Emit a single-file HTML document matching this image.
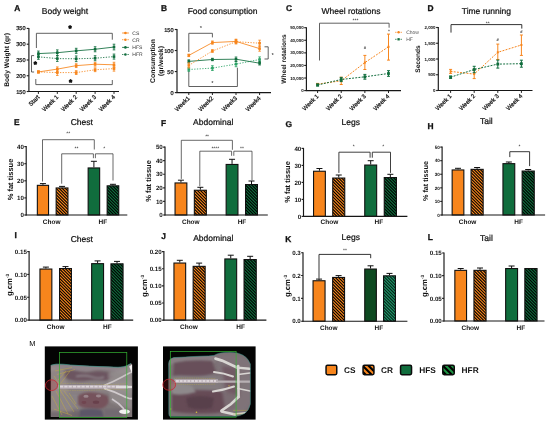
<!DOCTYPE html>
<html><head><meta charset="utf-8"><title>Figure</title>
<style>
html,body{margin:0;padding:0;background:#fff;}
svg{display:block;font-family:"Liberation Sans",sans-serif;text-rendering:geometricPrecision;}
text.r{stroke:#111;stroke-width:0.22px;}
</style></head><body>
<svg width="550" height="423" viewBox="0 0 550 423">
<rect width="550" height="423" fill="#fff"/>
<defs>
<pattern id="hO" patternUnits="userSpaceOnUse" width="2.15" height="2.15" patternTransform="rotate(-45)"><rect width="2.15" height="2.15" fill="#F7851C"/><rect width="1.0" height="2.15" fill="#111"/></pattern>
<pattern id="hG" patternUnits="userSpaceOnUse" width="2.15" height="2.15" patternTransform="rotate(-45)"><rect width="2.15" height="2.15" fill="#106D3D"/><rect width="1.0" height="2.15" fill="#0a1a10"/></pattern>
<pattern id="hG2" patternUnits="userSpaceOnUse" width="2.15" height="2.15" patternTransform="rotate(-45)"><rect width="2.15" height="2.15" fill="#2E9468"/><rect width="1.0" height="2.15" fill="#10402a"/></pattern>
<filter id="b1" x="-20%" y="-20%" width="140%" height="140%"><feGaussianBlur stdDeviation="1.2"/></filter>
<filter id="b2" x="-20%" y="-20%" width="140%" height="140%"><feGaussianBlur stdDeviation="0.6"/></filter>
<filter id="b3" x="-20%" y="-20%" width="140%" height="140%"><feGaussianBlur stdDeviation="2.2"/></filter>
</defs>
<text x="14.30" y="10.60" font-size="8.4" font-weight="bold" text-anchor="start" fill="#111" stroke="#111" stroke-width="0.3">A</text>
<text class="r" x="65.00" y="13.80" font-size="8.5" font-weight="normal" text-anchor="middle" fill="#111">Body weight</text>
<line x1="28.90" y1="27.95" x2="28.90" y2="92.00" stroke="#161616" stroke-width="1.15"/>
<line x1="28.40" y1="91.50" x2="119.00" y2="91.50" stroke="#161616" stroke-width="1.15"/>
<line x1="26.70" y1="28.45" x2="28.90" y2="28.45" stroke="#222" stroke-width="1.15"/>
<text class="r" x="25.50" y="30.47" font-size="5.6" font-weight="normal" text-anchor="end" fill="#111">350</text>
<line x1="26.70" y1="44.21" x2="28.90" y2="44.21" stroke="#222" stroke-width="1.15"/>
<text class="r" x="25.50" y="46.23" font-size="5.6" font-weight="normal" text-anchor="end" fill="#111">300</text>
<line x1="26.70" y1="59.98" x2="28.90" y2="59.98" stroke="#222" stroke-width="1.15"/>
<text class="r" x="25.50" y="61.99" font-size="5.6" font-weight="normal" text-anchor="end" fill="#111">250</text>
<line x1="26.70" y1="75.74" x2="28.90" y2="75.74" stroke="#222" stroke-width="1.15"/>
<text class="r" x="25.50" y="77.75" font-size="5.6" font-weight="normal" text-anchor="end" fill="#111">200</text>
<line x1="26.70" y1="91.50" x2="28.90" y2="91.50" stroke="#222" stroke-width="1.15"/>
<text class="r" x="25.50" y="93.52" font-size="5.6" font-weight="normal" text-anchor="end" fill="#111">150</text>
<line x1="38.40" y1="91.50" x2="38.40" y2="93.90" stroke="#222" stroke-width="1"/>
<text class="r" x="39.90" y="97.50" font-size="6.0" font-weight="normal" text-anchor="end" fill="#111" transform="rotate(-45 39.90 97.50)">Start</text>
<line x1="57.30" y1="91.50" x2="57.30" y2="93.90" stroke="#222" stroke-width="1"/>
<text class="r" x="58.80" y="97.50" font-size="6.0" font-weight="normal" text-anchor="end" fill="#111" transform="rotate(-45 58.80 97.50)">Week 1</text>
<line x1="76.20" y1="91.50" x2="76.20" y2="93.90" stroke="#222" stroke-width="1"/>
<text class="r" x="77.70" y="97.50" font-size="6.0" font-weight="normal" text-anchor="end" fill="#111" transform="rotate(-45 77.70 97.50)">Week 2</text>
<line x1="95.10" y1="91.50" x2="95.10" y2="93.90" stroke="#222" stroke-width="1"/>
<text class="r" x="96.60" y="97.50" font-size="6.0" font-weight="normal" text-anchor="end" fill="#111" transform="rotate(-45 96.60 97.50)">Week 3</text>
<line x1="114.00" y1="91.50" x2="114.00" y2="93.90" stroke="#222" stroke-width="1"/>
<text class="r" x="115.50" y="97.50" font-size="6.0" font-weight="normal" text-anchor="end" fill="#111" transform="rotate(-45 115.50 97.50)">Week 4</text>
<text x="8.80" y="60.00" font-size="6.7" font-weight="bold" text-anchor="middle" fill="#111" transform="rotate(-90 8.80 60.00)">Body Weight (gr)</text>
<path d="M38.40,71.95 L57.30,72.59 L76.20,72.59 L95.10,69.75 L114.00,68.61" stroke="#F7851C" stroke-width="0.85" fill="none" stroke-dasharray="1.3,1.4"/>
<line x1="38.40" y1="72.90" x2="38.40" y2="71.01" stroke="#F7851C" stroke-width="0.85"/>
<line x1="37.10" y1="72.90" x2="39.70" y2="72.90" stroke="#F7851C" stroke-width="0.85"/>
<line x1="37.10" y1="71.01" x2="39.70" y2="71.01" stroke="#F7851C" stroke-width="0.85"/>
<rect x="37.10" y="70.65" width="2.6" height="2.6" fill="#F7851C"/>
<line x1="57.30" y1="75.42" x2="57.30" y2="69.75" stroke="#F7851C" stroke-width="0.85"/>
<line x1="56.00" y1="75.42" x2="58.60" y2="75.42" stroke="#F7851C" stroke-width="0.85"/>
<line x1="56.00" y1="69.75" x2="58.60" y2="69.75" stroke="#F7851C" stroke-width="0.85"/>
<rect x="56.00" y="71.29" width="2.6" height="2.6" fill="#F7851C"/>
<line x1="76.20" y1="74.48" x2="76.20" y2="70.69" stroke="#F7851C" stroke-width="0.85"/>
<line x1="74.90" y1="74.48" x2="77.50" y2="74.48" stroke="#F7851C" stroke-width="0.85"/>
<line x1="74.90" y1="70.69" x2="77.50" y2="70.69" stroke="#F7851C" stroke-width="0.85"/>
<rect x="74.90" y="71.29" width="2.6" height="2.6" fill="#F7851C"/>
<line x1="95.10" y1="71.64" x2="95.10" y2="67.86" stroke="#F7851C" stroke-width="0.85"/>
<line x1="93.80" y1="71.64" x2="96.40" y2="71.64" stroke="#F7851C" stroke-width="0.85"/>
<line x1="93.80" y1="67.86" x2="96.40" y2="67.86" stroke="#F7851C" stroke-width="0.85"/>
<rect x="93.80" y="68.45" width="2.6" height="2.6" fill="#F7851C"/>
<line x1="114.00" y1="71.13" x2="114.00" y2="66.09" stroke="#F7851C" stroke-width="0.85"/>
<line x1="112.70" y1="71.13" x2="115.30" y2="71.13" stroke="#F7851C" stroke-width="0.85"/>
<line x1="112.70" y1="66.09" x2="115.30" y2="66.09" stroke="#F7851C" stroke-width="0.85"/>
<rect x="112.70" y="67.31" width="2.6" height="2.6" fill="#F7851C"/>
<path d="M38.40,71.95 L57.30,69.12 L76.20,65.65 L95.10,64.23 L114.00,64.80" stroke="#F7851C" stroke-width="0.85" fill="none"/>
<line x1="38.40" y1="72.90" x2="38.40" y2="71.01" stroke="#F7851C" stroke-width="0.85"/>
<line x1="37.10" y1="72.90" x2="39.70" y2="72.90" stroke="#F7851C" stroke-width="0.85"/>
<line x1="37.10" y1="71.01" x2="39.70" y2="71.01" stroke="#F7851C" stroke-width="0.85"/>
<rect x="37.10" y="70.65" width="2.6" height="2.6" fill="#F7851C"/>
<line x1="57.30" y1="71.32" x2="57.30" y2="66.91" stroke="#F7851C" stroke-width="0.85"/>
<line x1="56.00" y1="71.32" x2="58.60" y2="71.32" stroke="#F7851C" stroke-width="0.85"/>
<line x1="56.00" y1="66.91" x2="58.60" y2="66.91" stroke="#F7851C" stroke-width="0.85"/>
<rect x="56.00" y="67.82" width="2.6" height="2.6" fill="#F7851C"/>
<line x1="76.20" y1="67.54" x2="76.20" y2="63.76" stroke="#F7851C" stroke-width="0.85"/>
<line x1="74.90" y1="67.54" x2="77.50" y2="67.54" stroke="#F7851C" stroke-width="0.85"/>
<line x1="74.90" y1="63.76" x2="77.50" y2="63.76" stroke="#F7851C" stroke-width="0.85"/>
<rect x="74.90" y="64.35" width="2.6" height="2.6" fill="#F7851C"/>
<line x1="95.10" y1="66.12" x2="95.10" y2="62.34" stroke="#F7851C" stroke-width="0.85"/>
<line x1="93.80" y1="66.12" x2="96.40" y2="66.12" stroke="#F7851C" stroke-width="0.85"/>
<line x1="93.80" y1="62.34" x2="96.40" y2="62.34" stroke="#F7851C" stroke-width="0.85"/>
<rect x="93.80" y="62.93" width="2.6" height="2.6" fill="#F7851C"/>
<line x1="114.00" y1="67.32" x2="114.00" y2="62.28" stroke="#F7851C" stroke-width="0.85"/>
<line x1="112.70" y1="67.32" x2="115.30" y2="67.32" stroke="#F7851C" stroke-width="0.85"/>
<line x1="112.70" y1="62.28" x2="115.30" y2="62.28" stroke="#F7851C" stroke-width="0.85"/>
<rect x="112.70" y="63.50" width="2.6" height="2.6" fill="#F7851C"/>
<path d="M38.40,56.82 L57.30,58.59 L76.20,58.78 L95.10,58.24 L114.00,56.60" stroke="#106D3D" stroke-width="0.85" fill="none" stroke-dasharray="1.3,1.4"/>
<line x1="38.40" y1="59.34" x2="38.40" y2="54.30" stroke="#106D3D" stroke-width="0.85"/>
<line x1="37.10" y1="59.34" x2="39.70" y2="59.34" stroke="#106D3D" stroke-width="0.85"/>
<line x1="37.10" y1="54.30" x2="39.70" y2="54.30" stroke="#106D3D" stroke-width="0.85"/>
<rect x="37.10" y="55.52" width="2.6" height="2.6" fill="#106D3D"/>
<line x1="57.30" y1="61.43" x2="57.30" y2="55.75" stroke="#106D3D" stroke-width="0.85"/>
<line x1="56.00" y1="61.43" x2="58.60" y2="61.43" stroke="#106D3D" stroke-width="0.85"/>
<line x1="56.00" y1="55.75" x2="58.60" y2="55.75" stroke="#106D3D" stroke-width="0.85"/>
<rect x="56.00" y="57.29" width="2.6" height="2.6" fill="#106D3D"/>
<line x1="76.20" y1="61.61" x2="76.20" y2="55.94" stroke="#106D3D" stroke-width="0.85"/>
<line x1="74.90" y1="61.61" x2="77.50" y2="61.61" stroke="#106D3D" stroke-width="0.85"/>
<line x1="74.90" y1="55.94" x2="77.50" y2="55.94" stroke="#106D3D" stroke-width="0.85"/>
<rect x="74.90" y="57.48" width="2.6" height="2.6" fill="#106D3D"/>
<line x1="95.10" y1="60.76" x2="95.10" y2="55.72" stroke="#106D3D" stroke-width="0.85"/>
<line x1="93.80" y1="60.76" x2="96.40" y2="60.76" stroke="#106D3D" stroke-width="0.85"/>
<line x1="93.80" y1="55.72" x2="96.40" y2="55.72" stroke="#106D3D" stroke-width="0.85"/>
<rect x="93.80" y="56.94" width="2.6" height="2.6" fill="#106D3D"/>
<line x1="114.00" y1="59.12" x2="114.00" y2="54.08" stroke="#106D3D" stroke-width="0.85"/>
<line x1="112.70" y1="59.12" x2="115.30" y2="59.12" stroke="#106D3D" stroke-width="0.85"/>
<line x1="112.70" y1="54.08" x2="115.30" y2="54.08" stroke="#106D3D" stroke-width="0.85"/>
<rect x="112.70" y="55.30" width="2.6" height="2.6" fill="#106D3D"/>
<path d="M38.40,53.58 L57.30,52.72 L76.20,50.83 L95.10,49.26 L114.00,47.05" stroke="#106D3D" stroke-width="0.85" fill="none"/>
<line x1="38.40" y1="56.10" x2="38.40" y2="51.05" stroke="#106D3D" stroke-width="0.85"/>
<line x1="37.10" y1="56.10" x2="39.70" y2="56.10" stroke="#106D3D" stroke-width="0.85"/>
<line x1="37.10" y1="51.05" x2="39.70" y2="51.05" stroke="#106D3D" stroke-width="0.85"/>
<rect x="37.10" y="52.28" width="2.6" height="2.6" fill="#106D3D"/>
<line x1="57.30" y1="55.56" x2="57.30" y2="49.89" stroke="#106D3D" stroke-width="0.85"/>
<line x1="56.00" y1="55.56" x2="58.60" y2="55.56" stroke="#106D3D" stroke-width="0.85"/>
<line x1="56.00" y1="49.89" x2="58.60" y2="49.89" stroke="#106D3D" stroke-width="0.85"/>
<rect x="56.00" y="51.42" width="2.6" height="2.6" fill="#106D3D"/>
<line x1="76.20" y1="53.35" x2="76.20" y2="48.31" stroke="#106D3D" stroke-width="0.85"/>
<line x1="74.90" y1="53.35" x2="77.50" y2="53.35" stroke="#106D3D" stroke-width="0.85"/>
<line x1="74.90" y1="48.31" x2="77.50" y2="48.31" stroke="#106D3D" stroke-width="0.85"/>
<rect x="74.90" y="49.53" width="2.6" height="2.6" fill="#106D3D"/>
<line x1="95.10" y1="51.78" x2="95.10" y2="46.73" stroke="#106D3D" stroke-width="0.85"/>
<line x1="93.80" y1="51.78" x2="96.40" y2="51.78" stroke="#106D3D" stroke-width="0.85"/>
<line x1="93.80" y1="46.73" x2="96.40" y2="46.73" stroke="#106D3D" stroke-width="0.85"/>
<rect x="93.80" y="47.96" width="2.6" height="2.6" fill="#106D3D"/>
<line x1="114.00" y1="49.89" x2="114.00" y2="44.21" stroke="#106D3D" stroke-width="0.85"/>
<line x1="112.70" y1="49.89" x2="115.30" y2="49.89" stroke="#106D3D" stroke-width="0.85"/>
<line x1="112.70" y1="44.21" x2="115.30" y2="44.21" stroke="#106D3D" stroke-width="0.85"/>
<rect x="112.70" y="45.75" width="2.6" height="2.6" fill="#106D3D"/>
<path d="M36.4,48 V33.3 H112.3 V39.7" stroke="#444" stroke-width="0.85" fill="none"/>
<path d="M35.8,79 V84.6 H112.3 V80" stroke="#444" stroke-width="0.85" fill="none"/>
<path d="M34.1,55.6 H31.5 V72 H34.1" stroke="#444" stroke-width="0.85" fill="none"/>
<text x="70.00" y="31.40" font-size="8" font-weight="bold" text-anchor="middle" fill="#111" stroke="#111" stroke-width="0.7">*</text>
<text x="35.30" y="67.00" font-size="8" font-weight="bold" text-anchor="middle" fill="#111" stroke="#111" stroke-width="0.7">*</text>
<text x="70.60" y="85.20" font-size="8" font-weight="bold" text-anchor="middle" fill="#111" stroke="#111" stroke-width="0.7">*</text>
<line x1="122.10" y1="33.00" x2="128.90" y2="33.00" stroke="#F7851C" stroke-width="0.85"/>
<circle cx="125.4" cy="33.00" r="1.3" fill="#F7851C"/>
<text x="132.30" y="34.80" font-size="5.0" font-weight="normal" text-anchor="start" fill="#3a3a3a">CS</text>
<line x1="122.10" y1="39.70" x2="128.90" y2="39.70" stroke="#F7851C" stroke-width="0.85" stroke-dasharray="1.3,1.4"/>
<circle cx="125.4" cy="39.70" r="1.3" fill="#F7851C"/>
<text x="132.30" y="41.50" font-size="5.0" font-weight="normal" text-anchor="start" fill="#3a3a3a">CR</text>
<line x1="122.10" y1="47.40" x2="128.90" y2="47.40" stroke="#106D3D" stroke-width="0.85"/>
<circle cx="125.4" cy="47.40" r="1.3" fill="#106D3D"/>
<text x="132.30" y="49.20" font-size="5.0" font-weight="normal" text-anchor="start" fill="#3a3a3a">HFS</text>
<line x1="122.10" y1="54.50" x2="128.90" y2="54.50" stroke="#106D3D" stroke-width="0.85" stroke-dasharray="1.3,1.4"/>
<circle cx="125.4" cy="54.50" r="1.3" fill="#106D3D"/>
<text x="132.30" y="56.30" font-size="5.0" font-weight="normal" text-anchor="start" fill="#3a3a3a">HFR</text>
<text x="161.00" y="10.60" font-size="8.4" font-weight="bold" text-anchor="start" fill="#111" stroke="#111" stroke-width="0.3">B</text>
<text class="r" x="222.60" y="13.80" font-size="8.5" font-weight="normal" text-anchor="middle" fill="#111">Food consumption</text>
<line x1="177.00" y1="29.00" x2="177.00" y2="93.10" stroke="#161616" stroke-width="1.15"/>
<line x1="176.50" y1="92.60" x2="271.00" y2="92.60" stroke="#161616" stroke-width="1.15"/>
<line x1="174.80" y1="29.50" x2="177.00" y2="29.50" stroke="#222" stroke-width="1.15"/>
<text class="r" x="173.60" y="31.52" font-size="5.6" font-weight="normal" text-anchor="end" fill="#111">150</text>
<line x1="174.80" y1="50.53" x2="177.00" y2="50.53" stroke="#222" stroke-width="1.15"/>
<text class="r" x="173.60" y="52.55" font-size="5.6" font-weight="normal" text-anchor="end" fill="#111">100</text>
<line x1="174.80" y1="71.57" x2="177.00" y2="71.57" stroke="#222" stroke-width="1.15"/>
<text class="r" x="173.60" y="73.58" font-size="5.6" font-weight="normal" text-anchor="end" fill="#111">50</text>
<line x1="174.80" y1="92.60" x2="177.00" y2="92.60" stroke="#222" stroke-width="1.15"/>
<text class="r" x="173.60" y="94.62" font-size="5.6" font-weight="normal" text-anchor="end" fill="#111">0</text>
<line x1="188.80" y1="92.60" x2="188.80" y2="95.00" stroke="#222" stroke-width="1"/>
<text class="r" x="190.30" y="98.60" font-size="6.0" font-weight="normal" text-anchor="end" fill="#111" transform="rotate(-45 190.30 98.60)">Week1</text>
<line x1="212.40" y1="92.60" x2="212.40" y2="95.00" stroke="#222" stroke-width="1"/>
<text class="r" x="213.90" y="98.60" font-size="6.0" font-weight="normal" text-anchor="end" fill="#111" transform="rotate(-45 213.90 98.60)">Week2</text>
<line x1="236.00" y1="92.60" x2="236.00" y2="95.00" stroke="#222" stroke-width="1"/>
<text class="r" x="237.50" y="98.60" font-size="6.0" font-weight="normal" text-anchor="end" fill="#111" transform="rotate(-45 237.50 98.60)">Week3</text>
<line x1="259.60" y1="92.60" x2="259.60" y2="95.00" stroke="#222" stroke-width="1"/>
<text class="r" x="261.10" y="98.60" font-size="6.0" font-weight="normal" text-anchor="end" fill="#111" transform="rotate(-45 261.10 98.60)">Week4</text>
<text x="154.80" y="61.00" font-size="6.8" font-weight="bold" text-anchor="middle" fill="#111" transform="rotate(-90 154.80 61.00)">Consumption</text>
<text x="163.20" y="61.00" font-size="6.8" font-weight="bold" text-anchor="middle" fill="#111" transform="rotate(-90 163.20 61.00)">(gr/week)</text>
<path d="M188.8,52 V33.3 H212.4 V37.4" stroke="#444" stroke-width="0.85" fill="none"/>
<path d="M188.8,71 V86.5 H237.4 V67.7" stroke="#444" stroke-width="0.85" fill="none"/>
<path d="M264.5,46.8 H268.2 V59 H264.5" stroke="#444" stroke-width="0.85" fill="none"/>
<path d="M188.80,69.50 L212.40,68.10 L236.00,64.10 L259.60,59.50" stroke="#2BA366" stroke-width="0.85" fill="none" stroke-dasharray="1.3,1.4"/>
<line x1="188.80" y1="71.30" x2="188.80" y2="67.70" stroke="#2BA366" stroke-width="0.85"/>
<line x1="187.50" y1="71.30" x2="190.10" y2="71.30" stroke="#2BA366" stroke-width="0.85"/>
<line x1="187.50" y1="67.70" x2="190.10" y2="67.70" stroke="#2BA366" stroke-width="0.85"/>
<rect x="187.50" y="68.20" width="2.6" height="2.6" fill="#2BA366"/>
<line x1="212.40" y1="70.50" x2="212.40" y2="65.70" stroke="#2BA366" stroke-width="0.85"/>
<line x1="211.10" y1="70.50" x2="213.70" y2="70.50" stroke="#2BA366" stroke-width="0.85"/>
<line x1="211.10" y1="65.70" x2="213.70" y2="65.70" stroke="#2BA366" stroke-width="0.85"/>
<rect x="211.10" y="66.80" width="2.6" height="2.6" fill="#2BA366"/>
<line x1="236.00" y1="66.70" x2="236.00" y2="61.50" stroke="#2BA366" stroke-width="0.85"/>
<line x1="234.70" y1="66.70" x2="237.30" y2="66.70" stroke="#2BA366" stroke-width="0.85"/>
<line x1="234.70" y1="61.50" x2="237.30" y2="61.50" stroke="#2BA366" stroke-width="0.85"/>
<rect x="234.70" y="62.80" width="2.6" height="2.6" fill="#2BA366"/>
<line x1="259.60" y1="62.10" x2="259.60" y2="56.90" stroke="#2BA366" stroke-width="0.85"/>
<line x1="258.30" y1="62.10" x2="260.90" y2="62.10" stroke="#2BA366" stroke-width="0.85"/>
<line x1="258.30" y1="56.90" x2="260.90" y2="56.90" stroke="#2BA366" stroke-width="0.85"/>
<rect x="258.30" y="58.20" width="2.6" height="2.6" fill="#2BA366"/>
<path d="M188.80,61.40 L212.40,59.50 L236.00,59.20 L259.60,63.20" stroke="#106D3D" stroke-width="0.85" fill="none"/>
<line x1="188.80" y1="63.00" x2="188.80" y2="59.80" stroke="#106D3D" stroke-width="0.85"/>
<line x1="187.50" y1="63.00" x2="190.10" y2="63.00" stroke="#106D3D" stroke-width="0.85"/>
<line x1="187.50" y1="59.80" x2="190.10" y2="59.80" stroke="#106D3D" stroke-width="0.85"/>
<rect x="187.50" y="60.10" width="2.6" height="2.6" fill="#106D3D"/>
<line x1="212.40" y1="60.70" x2="212.40" y2="58.30" stroke="#106D3D" stroke-width="0.85"/>
<line x1="211.10" y1="60.70" x2="213.70" y2="60.70" stroke="#106D3D" stroke-width="0.85"/>
<line x1="211.10" y1="58.30" x2="213.70" y2="58.30" stroke="#106D3D" stroke-width="0.85"/>
<rect x="211.10" y="58.20" width="2.6" height="2.6" fill="#106D3D"/>
<line x1="236.00" y1="61.40" x2="236.00" y2="57.00" stroke="#106D3D" stroke-width="0.85"/>
<line x1="234.70" y1="61.40" x2="237.30" y2="61.40" stroke="#106D3D" stroke-width="0.85"/>
<line x1="234.70" y1="57.00" x2="237.30" y2="57.00" stroke="#106D3D" stroke-width="0.85"/>
<rect x="234.70" y="57.90" width="2.6" height="2.6" fill="#106D3D"/>
<line x1="259.60" y1="65.00" x2="259.60" y2="61.40" stroke="#106D3D" stroke-width="0.85"/>
<line x1="258.30" y1="65.00" x2="260.90" y2="65.00" stroke="#106D3D" stroke-width="0.85"/>
<line x1="258.30" y1="61.40" x2="260.90" y2="61.40" stroke="#106D3D" stroke-width="0.85"/>
<rect x="258.30" y="61.90" width="2.6" height="2.6" fill="#106D3D"/>
<path d="M188.80,65.40 L212.40,51.00 L236.00,41.70 L259.60,43.20" stroke="#F7851C" stroke-width="0.85" fill="none" stroke-dasharray="1.3,1.4"/>
<line x1="188.80" y1="67.90" x2="188.80" y2="62.90" stroke="#F7851C" stroke-width="0.85"/>
<line x1="187.50" y1="67.90" x2="190.10" y2="67.90" stroke="#F7851C" stroke-width="0.85"/>
<line x1="187.50" y1="62.90" x2="190.10" y2="62.90" stroke="#F7851C" stroke-width="0.85"/>
<rect x="187.50" y="64.10" width="2.6" height="2.6" fill="#F7851C"/>
<line x1="212.40" y1="52.30" x2="212.40" y2="49.70" stroke="#F7851C" stroke-width="0.85"/>
<line x1="211.10" y1="52.30" x2="213.70" y2="52.30" stroke="#F7851C" stroke-width="0.85"/>
<line x1="211.10" y1="49.70" x2="213.70" y2="49.70" stroke="#F7851C" stroke-width="0.85"/>
<rect x="211.10" y="49.70" width="2.6" height="2.6" fill="#F7851C"/>
<line x1="236.00" y1="43.90" x2="236.00" y2="39.50" stroke="#F7851C" stroke-width="0.85"/>
<line x1="234.70" y1="43.90" x2="237.30" y2="43.90" stroke="#F7851C" stroke-width="0.85"/>
<line x1="234.70" y1="39.50" x2="237.30" y2="39.50" stroke="#F7851C" stroke-width="0.85"/>
<rect x="234.70" y="40.40" width="2.6" height="2.6" fill="#F7851C"/>
<line x1="259.60" y1="46.20" x2="259.60" y2="40.20" stroke="#F7851C" stroke-width="0.85"/>
<line x1="258.30" y1="46.20" x2="260.90" y2="46.20" stroke="#F7851C" stroke-width="0.85"/>
<line x1="258.30" y1="40.20" x2="260.90" y2="40.20" stroke="#F7851C" stroke-width="0.85"/>
<rect x="258.30" y="41.90" width="2.6" height="2.6" fill="#F7851C"/>
<path d="M188.80,55.40 L212.40,42.60 L236.00,41.40 L259.60,48.60" stroke="#F7851C" stroke-width="0.85" fill="none"/>
<line x1="188.80" y1="56.60" x2="188.80" y2="54.20" stroke="#F7851C" stroke-width="0.85"/>
<line x1="187.50" y1="56.60" x2="190.10" y2="56.60" stroke="#F7851C" stroke-width="0.85"/>
<line x1="187.50" y1="54.20" x2="190.10" y2="54.20" stroke="#F7851C" stroke-width="0.85"/>
<rect x="187.50" y="54.10" width="2.6" height="2.6" fill="#F7851C"/>
<line x1="212.40" y1="44.20" x2="212.40" y2="41.00" stroke="#F7851C" stroke-width="0.85"/>
<line x1="211.10" y1="44.20" x2="213.70" y2="44.20" stroke="#F7851C" stroke-width="0.85"/>
<line x1="211.10" y1="41.00" x2="213.70" y2="41.00" stroke="#F7851C" stroke-width="0.85"/>
<rect x="211.10" y="41.30" width="2.6" height="2.6" fill="#F7851C"/>
<line x1="236.00" y1="43.60" x2="236.00" y2="39.20" stroke="#F7851C" stroke-width="0.85"/>
<line x1="234.70" y1="43.60" x2="237.30" y2="43.60" stroke="#F7851C" stroke-width="0.85"/>
<line x1="234.70" y1="39.20" x2="237.30" y2="39.20" stroke="#F7851C" stroke-width="0.85"/>
<rect x="234.70" y="40.10" width="2.6" height="2.6" fill="#F7851C"/>
<line x1="259.60" y1="51.20" x2="259.60" y2="46.00" stroke="#F7851C" stroke-width="0.85"/>
<line x1="258.30" y1="51.20" x2="260.90" y2="51.20" stroke="#F7851C" stroke-width="0.85"/>
<line x1="258.30" y1="46.00" x2="260.90" y2="46.00" stroke="#F7851C" stroke-width="0.85"/>
<rect x="258.30" y="47.30" width="2.6" height="2.6" fill="#F7851C"/>
<text x="200.90" y="30.20" font-size="6" font-weight="normal" text-anchor="middle" fill="#111">*</text>
<text x="212.40" y="85.00" font-size="6" font-weight="normal" text-anchor="middle" fill="#111">*</text>
<text x="272.70" y="57.00" font-size="6" font-weight="normal" text-anchor="middle" fill="#111">*</text>
<text x="286.00" y="10.90" font-size="8.4" font-weight="bold" text-anchor="start" fill="#111" stroke="#111" stroke-width="0.3">C</text>
<text class="r" x="351.00" y="13.80" font-size="8.5" font-weight="normal" text-anchor="middle" fill="#111">Wheel rotations</text>
<line x1="306.40" y1="27.20" x2="306.40" y2="91.10" stroke="#161616" stroke-width="1.15"/>
<line x1="305.90" y1="90.60" x2="401.00" y2="90.60" stroke="#161616" stroke-width="1.15"/>
<line x1="304.20" y1="27.70" x2="306.40" y2="27.70" stroke="#222" stroke-width="1.15"/>
<text x="303.60" y="29.28" font-size="4.4" font-weight="bold" text-anchor="end" fill="#111">50,000</text>
<line x1="304.20" y1="40.28" x2="306.40" y2="40.28" stroke="#222" stroke-width="1.15"/>
<text x="303.60" y="41.86" font-size="4.4" font-weight="bold" text-anchor="end" fill="#111">40,000</text>
<line x1="304.20" y1="52.86" x2="306.40" y2="52.86" stroke="#222" stroke-width="1.15"/>
<text x="303.60" y="54.44" font-size="4.4" font-weight="bold" text-anchor="end" fill="#111">30,000</text>
<line x1="304.20" y1="65.44" x2="306.40" y2="65.44" stroke="#222" stroke-width="1.15"/>
<text x="303.60" y="67.02" font-size="4.4" font-weight="bold" text-anchor="end" fill="#111">20,000</text>
<line x1="304.20" y1="78.02" x2="306.40" y2="78.02" stroke="#222" stroke-width="1.15"/>
<text x="303.60" y="79.60" font-size="4.4" font-weight="bold" text-anchor="end" fill="#111">10,000</text>
<line x1="304.20" y1="90.60" x2="306.40" y2="90.60" stroke="#222" stroke-width="1.15"/>
<text x="303.60" y="92.18" font-size="4.4" font-weight="bold" text-anchor="end" fill="#111">0</text>
<line x1="317.60" y1="90.60" x2="317.60" y2="93.00" stroke="#222" stroke-width="1"/>
<text class="r" x="319.10" y="96.60" font-size="6.0" font-weight="normal" text-anchor="end" fill="#111" transform="rotate(-45 319.10 96.60)">Week 1</text>
<line x1="341.23" y1="90.60" x2="341.23" y2="93.00" stroke="#222" stroke-width="1"/>
<text class="r" x="342.73" y="96.60" font-size="6.0" font-weight="normal" text-anchor="end" fill="#111" transform="rotate(-45 342.73 96.60)">Week 2</text>
<line x1="364.86" y1="90.60" x2="364.86" y2="93.00" stroke="#222" stroke-width="1"/>
<text class="r" x="366.36" y="96.60" font-size="6.0" font-weight="normal" text-anchor="end" fill="#111" transform="rotate(-45 366.36 96.60)">Week 3</text>
<line x1="388.49" y1="90.60" x2="388.49" y2="93.00" stroke="#222" stroke-width="1"/>
<text class="r" x="389.99" y="96.60" font-size="6.0" font-weight="normal" text-anchor="end" fill="#111" transform="rotate(-45 389.99 96.60)">Week 4</text>
<text x="285.90" y="59.00" font-size="6.6" font-weight="bold" text-anchor="middle" fill="#111" transform="rotate(-90 285.90 59.00)">Wheel rotations</text>
<path d="M319.5,60.5 V23.2 H389.1 V27.7" stroke="#444" stroke-width="0.85" fill="none"/>
<path d="M317.60,84.10 L341.23,80.80 L364.86,62.60 L388.49,46.80" stroke="#F7851C" stroke-width="1.0" fill="none" stroke-dasharray="1.9,1.3"/>
<line x1="317.60" y1="84.80" x2="317.60" y2="83.40" stroke="#F7851C" stroke-width="1.0"/>
<line x1="316.10" y1="84.80" x2="319.10" y2="84.80" stroke="#F7851C" stroke-width="1.0"/>
<line x1="316.10" y1="83.40" x2="319.10" y2="83.40" stroke="#F7851C" stroke-width="1.0"/>
<rect x="316.60" y="83.10" width="2.0" height="2.0" fill="#F7851C"/>
<line x1="341.23" y1="84.50" x2="341.23" y2="77.20" stroke="#F7851C" stroke-width="1.0"/>
<line x1="339.73" y1="84.50" x2="342.73" y2="84.50" stroke="#F7851C" stroke-width="1.0"/>
<line x1="339.73" y1="77.20" x2="342.73" y2="77.20" stroke="#F7851C" stroke-width="1.0"/>
<rect x="340.23" y="79.80" width="2.0" height="2.0" fill="#F7851C"/>
<line x1="364.86" y1="69.50" x2="364.86" y2="55.40" stroke="#F7851C" stroke-width="1.0"/>
<line x1="363.36" y1="69.50" x2="366.36" y2="69.50" stroke="#F7851C" stroke-width="1.0"/>
<line x1="363.36" y1="55.40" x2="366.36" y2="55.40" stroke="#F7851C" stroke-width="1.0"/>
<rect x="363.86" y="61.60" width="2.0" height="2.0" fill="#F7851C"/>
<line x1="388.49" y1="60.10" x2="388.49" y2="34.10" stroke="#F7851C" stroke-width="1.0"/>
<line x1="386.99" y1="60.10" x2="389.99" y2="60.10" stroke="#F7851C" stroke-width="1.0"/>
<line x1="386.99" y1="34.10" x2="389.99" y2="34.10" stroke="#F7851C" stroke-width="1.0"/>
<rect x="387.49" y="45.80" width="2.0" height="2.0" fill="#F7851C"/>
<path d="M317.60,85.00 L341.23,79.50 L364.86,76.80 L388.49,73.50" stroke="#106D3D" stroke-width="1.0" fill="none" stroke-dasharray="1.9,1.3"/>
<line x1="317.60" y1="86.00" x2="317.60" y2="84.00" stroke="#106D3D" stroke-width="1.0"/>
<line x1="316.10" y1="86.00" x2="319.10" y2="86.00" stroke="#106D3D" stroke-width="1.0"/>
<line x1="316.10" y1="84.00" x2="319.10" y2="84.00" stroke="#106D3D" stroke-width="1.0"/>
<rect x="316.20" y="83.60" width="2.8" height="2.8" fill="#106D3D"/>
<line x1="341.23" y1="81.60" x2="341.23" y2="77.40" stroke="#106D3D" stroke-width="1.0"/>
<line x1="339.73" y1="81.60" x2="342.73" y2="81.60" stroke="#106D3D" stroke-width="1.0"/>
<line x1="339.73" y1="77.40" x2="342.73" y2="77.40" stroke="#106D3D" stroke-width="1.0"/>
<rect x="339.83" y="78.10" width="2.8" height="2.8" fill="#106D3D"/>
<line x1="364.86" y1="79.20" x2="364.86" y2="74.40" stroke="#106D3D" stroke-width="1.0"/>
<line x1="363.36" y1="79.20" x2="366.36" y2="79.20" stroke="#106D3D" stroke-width="1.0"/>
<line x1="363.36" y1="74.40" x2="366.36" y2="74.40" stroke="#106D3D" stroke-width="1.0"/>
<rect x="363.46" y="75.40" width="2.8" height="2.8" fill="#106D3D"/>
<line x1="388.49" y1="76.30" x2="388.49" y2="70.70" stroke="#106D3D" stroke-width="1.0"/>
<line x1="386.99" y1="76.30" x2="389.99" y2="76.30" stroke="#106D3D" stroke-width="1.0"/>
<line x1="386.99" y1="70.70" x2="389.99" y2="70.70" stroke="#106D3D" stroke-width="1.0"/>
<rect x="387.09" y="72.10" width="2.8" height="2.8" fill="#106D3D"/>
<text x="355.50" y="21.70" font-size="5" font-weight="normal" text-anchor="middle" fill="#111">***</text>
<text x="364.90" y="49.20" font-size="4.2" font-weight="bold" text-anchor="middle" fill="#111">#</text>
<text x="389.00" y="33.30" font-size="5" font-weight="normal" text-anchor="middle" fill="#111">*</text>
<line x1="395.20" y1="32.30" x2="402.00" y2="32.30" stroke="#F7851C" stroke-width="0.85" stroke-dasharray="1.3,1.4"/>
<circle cx="398.6" cy="32.30" r="1.2" fill="#F7851C"/>
<text x="406.20" y="34.10" font-size="5.0" font-weight="normal" text-anchor="start" fill="#555">Chow</text>
<line x1="395.20" y1="39.30" x2="402.00" y2="39.30" stroke="#106D3D" stroke-width="0.85" stroke-dasharray="1.3,1.4"/>
<rect x="397.45" y="38.15" width="2.3" height="2.3" fill="#106D3D"/>
<text x="406.20" y="41.10" font-size="5.0" font-weight="normal" text-anchor="start" fill="#555">HF</text>
<text x="427.60" y="10.90" font-size="8.4" font-weight="bold" text-anchor="start" fill="#111" stroke="#111" stroke-width="0.3">D</text>
<text class="r" x="486.40" y="13.80" font-size="8.5" font-weight="normal" text-anchor="middle" fill="#111">Time running</text>
<line x1="438.30" y1="27.00" x2="438.30" y2="91.00" stroke="#161616" stroke-width="1.15"/>
<line x1="437.80" y1="90.50" x2="532.50" y2="90.50" stroke="#161616" stroke-width="1.15"/>
<line x1="436.10" y1="27.50" x2="438.30" y2="27.50" stroke="#222" stroke-width="1.15"/>
<text x="435.50" y="29.08" font-size="4.4" font-weight="bold" text-anchor="end" fill="#111">2,000</text>
<line x1="436.10" y1="43.25" x2="438.30" y2="43.25" stroke="#222" stroke-width="1.15"/>
<text x="435.50" y="44.83" font-size="4.4" font-weight="bold" text-anchor="end" fill="#111">1,500</text>
<line x1="436.10" y1="59.00" x2="438.30" y2="59.00" stroke="#222" stroke-width="1.15"/>
<text x="435.50" y="60.58" font-size="4.4" font-weight="bold" text-anchor="end" fill="#111">1,000</text>
<line x1="436.10" y1="74.75" x2="438.30" y2="74.75" stroke="#222" stroke-width="1.15"/>
<text x="435.50" y="76.33" font-size="4.4" font-weight="bold" text-anchor="end" fill="#111">500</text>
<line x1="436.10" y1="90.50" x2="438.30" y2="90.50" stroke="#222" stroke-width="1.15"/>
<text x="435.50" y="92.08" font-size="4.4" font-weight="bold" text-anchor="end" fill="#111">0</text>
<line x1="450.60" y1="90.50" x2="450.60" y2="92.90" stroke="#222" stroke-width="1"/>
<text class="r" x="452.10" y="96.50" font-size="6.0" font-weight="normal" text-anchor="end" fill="#111" transform="rotate(-45 452.10 96.50)">Week 1</text>
<line x1="474.20" y1="90.50" x2="474.20" y2="92.90" stroke="#222" stroke-width="1"/>
<text class="r" x="475.70" y="96.50" font-size="6.0" font-weight="normal" text-anchor="end" fill="#111" transform="rotate(-45 475.70 96.50)">Week 2</text>
<line x1="497.80" y1="90.50" x2="497.80" y2="92.90" stroke="#222" stroke-width="1"/>
<text class="r" x="499.30" y="96.50" font-size="6.0" font-weight="normal" text-anchor="end" fill="#111" transform="rotate(-45 499.30 96.50)">Week 3</text>
<line x1="521.40" y1="90.50" x2="521.40" y2="92.90" stroke="#222" stroke-width="1"/>
<text class="r" x="522.90" y="96.50" font-size="6.0" font-weight="normal" text-anchor="end" fill="#111" transform="rotate(-45 522.90 96.50)">Week 4</text>
<text x="420.30" y="59.00" font-size="6.6" font-weight="bold" text-anchor="middle" fill="#111" transform="rotate(-90 420.30 59.00)">Seconds</text>
<path d="M451,32.6 V24.6 H521.8 V28.6" stroke="#333" stroke-width="1" fill="none"/>
<path d="M450.60,71.40 L474.20,74.10 L497.80,52.30 L521.40,45.00" stroke="#F7851C" stroke-width="1.0" fill="none" stroke-dasharray="1.9,1.3"/>
<line x1="450.60" y1="73.40" x2="450.60" y2="69.40" stroke="#F7851C" stroke-width="1.0"/>
<line x1="449.10" y1="73.40" x2="452.10" y2="73.40" stroke="#F7851C" stroke-width="1.0"/>
<line x1="449.10" y1="69.40" x2="452.10" y2="69.40" stroke="#F7851C" stroke-width="1.0"/>
<rect x="449.60" y="70.40" width="2.0" height="2.0" fill="#F7851C"/>
<line x1="474.20" y1="78.60" x2="474.20" y2="69.20" stroke="#F7851C" stroke-width="1.0"/>
<line x1="472.70" y1="78.60" x2="475.70" y2="78.60" stroke="#F7851C" stroke-width="1.0"/>
<line x1="472.70" y1="69.20" x2="475.70" y2="69.20" stroke="#F7851C" stroke-width="1.0"/>
<rect x="473.20" y="73.10" width="2.0" height="2.0" fill="#F7851C"/>
<line x1="497.80" y1="59.50" x2="497.80" y2="44.10" stroke="#F7851C" stroke-width="1.0"/>
<line x1="496.30" y1="59.50" x2="499.30" y2="59.50" stroke="#F7851C" stroke-width="1.0"/>
<line x1="496.30" y1="44.10" x2="499.30" y2="44.10" stroke="#F7851C" stroke-width="1.0"/>
<rect x="496.80" y="51.30" width="2.0" height="2.0" fill="#F7851C"/>
<line x1="521.40" y1="55.40" x2="521.40" y2="35.00" stroke="#F7851C" stroke-width="1.0"/>
<line x1="519.90" y1="55.40" x2="522.90" y2="55.40" stroke="#F7851C" stroke-width="1.0"/>
<line x1="519.90" y1="35.00" x2="522.90" y2="35.00" stroke="#F7851C" stroke-width="1.0"/>
<rect x="520.40" y="44.00" width="2.0" height="2.0" fill="#F7851C"/>
<path d="M450.60,77.20 L474.20,69.50 L497.80,64.10 L521.40,63.70" stroke="#106D3D" stroke-width="1.0" fill="none" stroke-dasharray="1.9,1.3"/>
<line x1="450.60" y1="78.40" x2="450.60" y2="76.00" stroke="#106D3D" stroke-width="1.0"/>
<line x1="449.10" y1="78.40" x2="452.10" y2="78.40" stroke="#106D3D" stroke-width="1.0"/>
<line x1="449.10" y1="76.00" x2="452.10" y2="76.00" stroke="#106D3D" stroke-width="1.0"/>
<rect x="449.20" y="75.80" width="2.8" height="2.8" fill="#106D3D"/>
<line x1="474.20" y1="72.70" x2="474.20" y2="66.30" stroke="#106D3D" stroke-width="1.0"/>
<line x1="472.70" y1="72.70" x2="475.70" y2="72.70" stroke="#106D3D" stroke-width="1.0"/>
<line x1="472.70" y1="66.30" x2="475.70" y2="66.30" stroke="#106D3D" stroke-width="1.0"/>
<rect x="472.80" y="68.10" width="2.8" height="2.8" fill="#106D3D"/>
<line x1="497.80" y1="68.10" x2="497.80" y2="60.10" stroke="#106D3D" stroke-width="1.0"/>
<line x1="496.30" y1="68.10" x2="499.30" y2="68.10" stroke="#106D3D" stroke-width="1.0"/>
<line x1="496.30" y1="60.10" x2="499.30" y2="60.10" stroke="#106D3D" stroke-width="1.0"/>
<rect x="496.40" y="62.70" width="2.8" height="2.8" fill="#106D3D"/>
<line x1="521.40" y1="67.20" x2="521.40" y2="60.20" stroke="#106D3D" stroke-width="1.0"/>
<line x1="519.90" y1="67.20" x2="522.90" y2="67.20" stroke="#106D3D" stroke-width="1.0"/>
<line x1="519.90" y1="60.20" x2="522.90" y2="60.20" stroke="#106D3D" stroke-width="1.0"/>
<rect x="520.00" y="62.30" width="2.8" height="2.8" fill="#106D3D"/>
<text x="487.70" y="24.60" font-size="5" font-weight="normal" text-anchor="middle" fill="#111">**</text>
<text x="497.70" y="40.70" font-size="4.2" font-weight="bold" text-anchor="middle" fill="#111">#</text>
<text x="521.40" y="33.20" font-size="4.2" font-weight="bold" text-anchor="middle" fill="#111">#</text>
<text x="14.00" y="125.20" font-size="8.4" font-weight="bold" text-anchor="start" fill="#111" stroke="#111" stroke-width="0.3">E</text>
<text class="r" x="81.80" y="124.70" font-size="8.5" font-weight="normal" text-anchor="middle" fill="#111">Chest</text>
<line x1="42.95" y1="184.80" x2="42.95" y2="183.60" stroke="#111" stroke-width="1.0"/>
<line x1="39.95" y1="183.60" x2="45.95" y2="183.60" stroke="#111" stroke-width="1.0"/>
<rect x="37.35" y="185.35" width="11.20" height="29.65" fill="#F7851C" stroke="#111" stroke-width="1.1"/>
<line x1="62.05" y1="187.40" x2="62.05" y2="186.40" stroke="#111" stroke-width="1.0"/>
<line x1="59.05" y1="186.40" x2="65.05" y2="186.40" stroke="#111" stroke-width="1.0"/>
<clipPath id="hc1"><rect x="56.15" y="187.95" width="11.80" height="27.05" rx="0"/></clipPath>
<rect x="56.15" y="187.95" width="11.80" height="27.05" rx="0" fill="#F7851C"/>
<path d="M55.15,172.07l13.80,13.80M55.15,175.15l13.80,13.80M55.15,178.23l13.80,13.80M55.15,181.31l13.80,13.80M55.15,184.39l13.80,13.80M55.15,187.47l13.80,13.80M55.15,190.55l13.80,13.80M55.15,193.63l13.80,13.80M55.15,196.71l13.80,13.80M55.15,199.79l13.80,13.80M55.15,202.87l13.80,13.80M55.15,205.95l13.80,13.80M55.15,209.03l13.80,13.80M55.15,212.11l13.80,13.80M55.15,215.19l13.80,13.80" stroke="#000" stroke-width="1.08" fill="none" clip-path="url(#hc1)"/>
<rect x="56.15" y="187.95" width="11.80" height="27.05" fill="none" stroke="#111" stroke-width="1.1"/>
<line x1="93.90" y1="167.40" x2="93.90" y2="161.30" stroke="#111" stroke-width="1.0"/>
<line x1="90.90" y1="161.30" x2="96.90" y2="161.30" stroke="#111" stroke-width="1.0"/>
<rect x="88.15" y="167.95" width="11.50" height="47.05" fill="#106D3D" stroke="#111" stroke-width="1.1"/>
<line x1="112.95" y1="185.30" x2="112.95" y2="184.30" stroke="#111" stroke-width="1.0"/>
<line x1="109.95" y1="184.30" x2="115.95" y2="184.30" stroke="#111" stroke-width="1.0"/>
<clipPath id="hc2"><rect x="107.15" y="185.85" width="11.60" height="29.15" rx="0"/></clipPath>
<rect x="107.15" y="185.85" width="11.60" height="29.15" rx="0" fill="#106D3D"/>
<path d="M106.15,170.17l13.60,13.60M106.15,173.25l13.60,13.60M106.15,176.33l13.60,13.60M106.15,179.41l13.60,13.60M106.15,182.49l13.60,13.60M106.15,185.57l13.60,13.60M106.15,188.65l13.60,13.60M106.15,191.73l13.60,13.60M106.15,194.81l13.60,13.60M106.15,197.89l13.60,13.60M106.15,200.97l13.60,13.60M106.15,204.05l13.60,13.60M106.15,207.13l13.60,13.60M106.15,210.21l13.60,13.60M106.15,213.29l13.60,13.60M106.15,216.37l13.60,13.60" stroke="#000" stroke-width="1.08" fill="none" clip-path="url(#hc2)"/>
<rect x="107.15" y="185.85" width="11.60" height="29.15" fill="none" stroke="#111" stroke-width="1.1"/>
<line x1="26.20" y1="146.10" x2="26.20" y2="215.50" stroke="#161616" stroke-width="1.15"/>
<line x1="25.70" y1="215.00" x2="127.30" y2="215.00" stroke="#161616" stroke-width="1.15"/>
<line x1="24.30" y1="146.60" x2="26.20" y2="146.60" stroke="#222" stroke-width="1.15"/>
<text x="24.00" y="148.83" font-size="6.2" font-weight="bold" text-anchor="end" fill="#111">40</text>
<line x1="24.30" y1="163.70" x2="26.20" y2="163.70" stroke="#222" stroke-width="1.15"/>
<text x="24.00" y="165.93" font-size="6.2" font-weight="bold" text-anchor="end" fill="#111">30</text>
<line x1="24.30" y1="180.80" x2="26.20" y2="180.80" stroke="#222" stroke-width="1.15"/>
<text x="24.00" y="183.03" font-size="6.2" font-weight="bold" text-anchor="end" fill="#111">20</text>
<line x1="24.30" y1="197.90" x2="26.20" y2="197.90" stroke="#222" stroke-width="1.15"/>
<text x="24.00" y="200.13" font-size="6.2" font-weight="bold" text-anchor="end" fill="#111">10</text>
<line x1="24.30" y1="215.00" x2="26.20" y2="215.00" stroke="#222" stroke-width="1.15"/>
<text x="24.00" y="217.23" font-size="6.2" font-weight="bold" text-anchor="end" fill="#111">0</text>
<text x="13.30" y="179.50" font-size="7.5" font-weight="bold" text-anchor="middle" fill="#111" transform="rotate(-90 13.30 179.50)">% fat tissue</text>
<text x="51.70" y="223.70" font-size="6.5" font-weight="bold" text-anchor="middle" fill="#111">Chow</text>
<text x="102.80" y="223.70" font-size="6.5" font-weight="bold" text-anchor="middle" fill="#111">HF</text>
<path d="M42.5,181.5 V139.7 H94.3 V149.5" stroke="#2a2a2a" stroke-width="0.7" fill="none"/>
<path d="M61.7,183.7 V153.8 H93.4 V158.2" stroke="#2a2a2a" stroke-width="0.7" fill="none"/>
<path d="M95.4,158.2 V153.8 H113 V180.5" stroke="#2a2a2a" stroke-width="0.7" fill="none"/>
<text x="68.30" y="135.20" font-size="5" font-weight="normal" text-anchor="middle" fill="#111">**</text>
<text x="76.40" y="150.00" font-size="5" font-weight="normal" text-anchor="middle" fill="#111">**</text>
<text x="104.30" y="150.00" font-size="5" font-weight="normal" text-anchor="middle" fill="#111">*</text>
<text x="161.00" y="125.90" font-size="8.4" font-weight="bold" text-anchor="start" fill="#111" stroke="#111" stroke-width="0.3">F</text>
<text class="r" x="213.20" y="124.70" font-size="8.5" font-weight="normal" text-anchor="middle" fill="#111">Abdominal</text>
<line x1="180.95" y1="182.40" x2="180.95" y2="180.20" stroke="#111" stroke-width="1.0"/>
<line x1="177.95" y1="180.20" x2="183.95" y2="180.20" stroke="#111" stroke-width="1.0"/>
<rect x="175.05" y="182.95" width="11.80" height="32.05" fill="#F7851C" stroke="#111" stroke-width="1.1"/>
<line x1="200.35" y1="189.70" x2="200.35" y2="187.30" stroke="#111" stroke-width="1.0"/>
<line x1="197.35" y1="187.30" x2="203.35" y2="187.30" stroke="#111" stroke-width="1.0"/>
<clipPath id="hc3"><rect x="194.35" y="190.25" width="12.00" height="24.75" rx="0"/></clipPath>
<rect x="194.35" y="190.25" width="12.00" height="24.75" rx="0" fill="#F7851C"/>
<path d="M193.35,174.17l14.00,14.00M193.35,177.25l14.00,14.00M193.35,180.33l14.00,14.00M193.35,183.41l14.00,14.00M193.35,186.49l14.00,14.00M193.35,189.57l14.00,14.00M193.35,192.65l14.00,14.00M193.35,195.73l14.00,14.00M193.35,198.81l14.00,14.00M193.35,201.89l14.00,14.00M193.35,204.97l14.00,14.00M193.35,208.05l14.00,14.00M193.35,211.13l14.00,14.00M193.35,214.21l14.00,14.00" stroke="#000" stroke-width="1.08" fill="none" clip-path="url(#hc3)"/>
<rect x="194.35" y="190.25" width="12.00" height="24.75" fill="none" stroke="#111" stroke-width="1.1"/>
<line x1="232.05" y1="163.90" x2="232.05" y2="159.30" stroke="#111" stroke-width="1.0"/>
<line x1="229.05" y1="159.30" x2="235.05" y2="159.30" stroke="#111" stroke-width="1.0"/>
<rect x="226.15" y="164.45" width="11.80" height="50.55" fill="#106D3D" stroke="#111" stroke-width="1.1"/>
<line x1="251.50" y1="184.00" x2="251.50" y2="181.00" stroke="#111" stroke-width="1.0"/>
<line x1="248.50" y1="181.00" x2="254.50" y2="181.00" stroke="#111" stroke-width="1.0"/>
<clipPath id="hc4"><rect x="245.55" y="184.55" width="11.90" height="30.45" rx="0"/></clipPath>
<rect x="245.55" y="184.55" width="11.90" height="30.45" rx="0" fill="#106D3D"/>
<path d="M244.55,168.57l13.90,13.90M244.55,171.65l13.90,13.90M244.55,174.73l13.90,13.90M244.55,177.81l13.90,13.90M244.55,180.89l13.90,13.90M244.55,183.97l13.90,13.90M244.55,187.05l13.90,13.90M244.55,190.13l13.90,13.90M244.55,193.21l13.90,13.90M244.55,196.29l13.90,13.90M244.55,199.37l13.90,13.90M244.55,202.45l13.90,13.90M244.55,205.53l13.90,13.90M244.55,208.61l13.90,13.90M244.55,211.69l13.90,13.90M244.55,214.77l13.90,13.90" stroke="#000" stroke-width="1.08" fill="none" clip-path="url(#hc4)"/>
<rect x="245.55" y="184.55" width="11.90" height="30.45" fill="none" stroke="#111" stroke-width="1.1"/>
<line x1="165.00" y1="146.60" x2="165.00" y2="215.50" stroke="#161616" stroke-width="1.15"/>
<line x1="164.50" y1="215.00" x2="267.80" y2="215.00" stroke="#161616" stroke-width="1.15"/>
<line x1="163.10" y1="147.10" x2="165.00" y2="147.10" stroke="#222" stroke-width="1.15"/>
<text x="162.80" y="149.33" font-size="6.2" font-weight="bold" text-anchor="end" fill="#111">50</text>
<line x1="163.10" y1="160.68" x2="165.00" y2="160.68" stroke="#222" stroke-width="1.15"/>
<text x="162.80" y="162.91" font-size="6.2" font-weight="bold" text-anchor="end" fill="#111">40</text>
<line x1="163.10" y1="174.26" x2="165.00" y2="174.26" stroke="#222" stroke-width="1.15"/>
<text x="162.80" y="176.49" font-size="6.2" font-weight="bold" text-anchor="end" fill="#111">30</text>
<line x1="163.10" y1="187.84" x2="165.00" y2="187.84" stroke="#222" stroke-width="1.15"/>
<text x="162.80" y="190.07" font-size="6.2" font-weight="bold" text-anchor="end" fill="#111">20</text>
<line x1="163.10" y1="201.42" x2="165.00" y2="201.42" stroke="#222" stroke-width="1.15"/>
<text x="162.80" y="203.65" font-size="6.2" font-weight="bold" text-anchor="end" fill="#111">10</text>
<line x1="163.10" y1="215.00" x2="165.00" y2="215.00" stroke="#222" stroke-width="1.15"/>
<text x="162.80" y="217.23" font-size="6.2" font-weight="bold" text-anchor="end" fill="#111">0</text>
<text x="151.20" y="181.00" font-size="7.5" font-weight="bold" text-anchor="middle" fill="#111" transform="rotate(-90 151.20 181.00)">% fat tissue</text>
<text x="190.80" y="223.50" font-size="6.5" font-weight="bold" text-anchor="middle" fill="#111">Chow</text>
<text x="242.00" y="223.50" font-size="6.5" font-weight="bold" text-anchor="middle" fill="#111">HF</text>
<path d="M181.3,178.9 V140.3 H232.4 V149.8" stroke="#2a2a2a" stroke-width="0.7" fill="none"/>
<path d="M199.8,186.2 V151.2 H231.6 V155.8" stroke="#2a2a2a" stroke-width="0.7" fill="none"/>
<path d="M233.8,155.8 V151.2 H252 V180.2" stroke="#2a2a2a" stroke-width="0.7" fill="none"/>
<text x="207.10" y="137.70" font-size="5" font-weight="normal" text-anchor="middle" fill="#111">**</text>
<text x="215.30" y="149.90" font-size="5" font-weight="normal" text-anchor="middle" fill="#111">****</text>
<text x="242.00" y="149.90" font-size="5" font-weight="normal" text-anchor="middle" fill="#111">**</text>
<text x="285.60" y="127.10" font-size="8.4" font-weight="bold" text-anchor="start" fill="#111" stroke="#111" stroke-width="0.3">G</text>
<text class="r" x="350.80" y="125.40" font-size="8.5" font-weight="normal" text-anchor="middle" fill="#111">Legs</text>
<line x1="319.45" y1="170.70" x2="319.45" y2="168.50" stroke="#111" stroke-width="1.0"/>
<line x1="316.45" y1="168.50" x2="322.45" y2="168.50" stroke="#111" stroke-width="1.0"/>
<rect x="313.55" y="171.25" width="11.80" height="45.15" fill="#F7851C" stroke="#111" stroke-width="1.1"/>
<line x1="338.75" y1="177.50" x2="338.75" y2="175.00" stroke="#111" stroke-width="1.0"/>
<line x1="335.75" y1="175.00" x2="341.75" y2="175.00" stroke="#111" stroke-width="1.0"/>
<clipPath id="hc5"><rect x="332.75" y="178.05" width="12.00" height="38.35" rx="0"/></clipPath>
<rect x="332.75" y="178.05" width="12.00" height="38.35" rx="0" fill="#F7851C"/>
<path d="M331.75,161.97l14.00,14.00M331.75,165.05l14.00,14.00M331.75,168.13l14.00,14.00M331.75,171.21l14.00,14.00M331.75,174.29l14.00,14.00M331.75,177.37l14.00,14.00M331.75,180.45l14.00,14.00M331.75,183.53l14.00,14.00M331.75,186.61l14.00,14.00M331.75,189.69l14.00,14.00M331.75,192.77l14.00,14.00M331.75,195.85l14.00,14.00M331.75,198.93l14.00,14.00M331.75,202.01l14.00,14.00M331.75,205.09l14.00,14.00M331.75,208.17l14.00,14.00M331.75,211.25l14.00,14.00M331.75,214.33l14.00,14.00M331.75,217.41l14.00,14.00" stroke="#000" stroke-width="1.08" fill="none" clip-path="url(#hc5)"/>
<rect x="332.75" y="178.05" width="12.00" height="38.35" fill="none" stroke="#111" stroke-width="1.1"/>
<line x1="370.70" y1="164.50" x2="370.70" y2="160.70" stroke="#111" stroke-width="1.0"/>
<line x1="367.70" y1="160.70" x2="373.70" y2="160.70" stroke="#111" stroke-width="1.0"/>
<rect x="364.75" y="165.05" width="11.90" height="51.35" fill="#106D3D" stroke="#111" stroke-width="1.1"/>
<line x1="390.35" y1="177.00" x2="390.35" y2="174.30" stroke="#111" stroke-width="1.0"/>
<line x1="387.35" y1="174.30" x2="393.35" y2="174.30" stroke="#111" stroke-width="1.0"/>
<clipPath id="hc6"><rect x="384.25" y="177.55" width="12.20" height="38.85" rx="0"/></clipPath>
<rect x="384.25" y="177.55" width="12.20" height="38.85" rx="0" fill="#106D3D"/>
<path d="M383.25,161.27l14.20,14.20M383.25,164.35l14.20,14.20M383.25,167.43l14.20,14.20M383.25,170.51l14.20,14.20M383.25,173.59l14.20,14.20M383.25,176.67l14.20,14.20M383.25,179.75l14.20,14.20M383.25,182.83l14.20,14.20M383.25,185.91l14.20,14.20M383.25,188.99l14.20,14.20M383.25,192.07l14.20,14.20M383.25,195.15l14.20,14.20M383.25,198.23l14.20,14.20M383.25,201.31l14.20,14.20M383.25,204.39l14.20,14.20M383.25,207.47l14.20,14.20M383.25,210.55l14.20,14.20M383.25,213.63l14.20,14.20M383.25,216.71l14.20,14.20" stroke="#000" stroke-width="1.08" fill="none" clip-path="url(#hc6)"/>
<rect x="384.25" y="177.55" width="12.20" height="38.85" fill="none" stroke="#111" stroke-width="1.1"/>
<line x1="303.50" y1="147.90" x2="303.50" y2="216.90" stroke="#161616" stroke-width="1.15"/>
<line x1="303.00" y1="216.40" x2="407.40" y2="216.40" stroke="#161616" stroke-width="1.15"/>
<line x1="301.60" y1="148.40" x2="303.50" y2="148.40" stroke="#222" stroke-width="1.15"/>
<text x="301.30" y="150.63" font-size="6.2" font-weight="bold" text-anchor="end" fill="#111">40</text>
<line x1="301.60" y1="165.40" x2="303.50" y2="165.40" stroke="#222" stroke-width="1.15"/>
<text x="301.30" y="167.63" font-size="6.2" font-weight="bold" text-anchor="end" fill="#111">30</text>
<line x1="301.60" y1="182.40" x2="303.50" y2="182.40" stroke="#222" stroke-width="1.15"/>
<text x="301.30" y="184.63" font-size="6.2" font-weight="bold" text-anchor="end" fill="#111">20</text>
<line x1="301.60" y1="199.40" x2="303.50" y2="199.40" stroke="#222" stroke-width="1.15"/>
<text x="301.30" y="201.63" font-size="6.2" font-weight="bold" text-anchor="end" fill="#111">10</text>
<line x1="301.60" y1="216.40" x2="303.50" y2="216.40" stroke="#222" stroke-width="1.15"/>
<text x="301.30" y="218.63" font-size="6.2" font-weight="bold" text-anchor="end" fill="#111">0</text>
<text x="290.00" y="182.00" font-size="7.5" font-weight="bold" text-anchor="middle" fill="#111" transform="rotate(-90 290.00 182.00)">% fat tissue</text>
<text x="329.40" y="224.40" font-size="6.5" font-weight="bold" text-anchor="middle" fill="#111">Chow</text>
<text x="378.80" y="224.40" font-size="6.5" font-weight="bold" text-anchor="middle" fill="#111">HF</text>
<path d="M338.9,172.9 V152.2 H370.1 V157.7" stroke="#2a2a2a" stroke-width="0.9" fill="none"/>
<path d="M372.3,157.7 V152.2 H390.5 V172.9" stroke="#2a2a2a" stroke-width="0.9" fill="none"/>
<text x="353.80" y="148.00" font-size="5" font-weight="normal" text-anchor="middle" fill="#111">*</text>
<text x="383.20" y="148.00" font-size="5" font-weight="normal" text-anchor="middle" fill="#111">*</text>
<text x="427.60" y="129.10" font-size="8.4" font-weight="bold" text-anchor="start" fill="#111" stroke="#111" stroke-width="0.3">H</text>
<text class="r" x="486.30" y="124.10" font-size="8.5" font-weight="normal" text-anchor="middle" fill="#111">Tail</text>
<line x1="458.00" y1="169.40" x2="458.00" y2="168.30" stroke="#111" stroke-width="1.0"/>
<line x1="455.00" y1="168.30" x2="461.00" y2="168.30" stroke="#111" stroke-width="1.0"/>
<rect x="452.15" y="169.95" width="11.70" height="45.05" fill="#F7851C" stroke="#111" stroke-width="1.1"/>
<line x1="477.10" y1="168.80" x2="477.10" y2="167.50" stroke="#111" stroke-width="1.0"/>
<line x1="474.10" y1="167.50" x2="480.10" y2="167.50" stroke="#111" stroke-width="1.0"/>
<clipPath id="hc7"><rect x="471.05" y="169.35" width="12.10" height="45.65" rx="0"/></clipPath>
<rect x="471.05" y="169.35" width="12.10" height="45.65" rx="0" fill="#F7851C"/>
<path d="M470.05,153.17l14.10,14.10M470.05,156.25l14.10,14.10M470.05,159.33l14.10,14.10M470.05,162.41l14.10,14.10M470.05,165.49l14.10,14.10M470.05,168.57l14.10,14.10M470.05,171.65l14.10,14.10M470.05,174.73l14.10,14.10M470.05,177.81l14.10,14.10M470.05,180.89l14.10,14.10M470.05,183.97l14.10,14.10M470.05,187.05l14.10,14.10M470.05,190.13l14.10,14.10M470.05,193.21l14.10,14.10M470.05,196.29l14.10,14.10M470.05,199.37l14.10,14.10M470.05,202.45l14.10,14.10M470.05,205.53l14.10,14.10M470.05,208.61l14.10,14.10M470.05,211.69l14.10,14.10M470.05,214.77l14.10,14.10" stroke="#000" stroke-width="1.08" fill="none" clip-path="url(#hc7)"/>
<rect x="471.05" y="169.35" width="12.10" height="45.65" fill="none" stroke="#111" stroke-width="1.1"/>
<line x1="508.85" y1="163.10" x2="508.85" y2="162.00" stroke="#111" stroke-width="1.0"/>
<line x1="505.85" y1="162.00" x2="511.85" y2="162.00" stroke="#111" stroke-width="1.0"/>
<rect x="502.95" y="163.65" width="11.80" height="51.35" fill="#106D3D" stroke="#111" stroke-width="1.1"/>
<line x1="528.20" y1="170.50" x2="528.20" y2="169.50" stroke="#111" stroke-width="1.0"/>
<line x1="525.20" y1="169.50" x2="531.20" y2="169.50" stroke="#111" stroke-width="1.0"/>
<clipPath id="hc8"><rect x="522.15" y="171.05" width="12.10" height="43.95" rx="0"/></clipPath>
<rect x="522.15" y="171.05" width="12.10" height="43.95" rx="0" fill="#106D3D"/>
<path d="M521.15,154.87l14.10,14.10M521.15,157.95l14.10,14.10M521.15,161.03l14.10,14.10M521.15,164.11l14.10,14.10M521.15,167.19l14.10,14.10M521.15,170.27l14.10,14.10M521.15,173.35l14.10,14.10M521.15,176.43l14.10,14.10M521.15,179.51l14.10,14.10M521.15,182.59l14.10,14.10M521.15,185.67l14.10,14.10M521.15,188.75l14.10,14.10M521.15,191.83l14.10,14.10M521.15,194.91l14.10,14.10M521.15,197.99l14.10,14.10M521.15,201.07l14.10,14.10M521.15,204.15l14.10,14.10M521.15,207.23l14.10,14.10M521.15,210.31l14.10,14.10M521.15,213.39l14.10,14.10M521.15,216.47l14.10,14.10" stroke="#000" stroke-width="1.08" fill="none" clip-path="url(#hc8)"/>
<rect x="522.15" y="171.05" width="12.10" height="43.95" fill="none" stroke="#111" stroke-width="1.1"/>
<line x1="442.10" y1="146.60" x2="442.10" y2="215.50" stroke="#161616" stroke-width="1.15"/>
<line x1="441.60" y1="215.00" x2="545.10" y2="215.00" stroke="#161616" stroke-width="1.15"/>
<line x1="440.20" y1="147.10" x2="442.10" y2="147.10" stroke="#222" stroke-width="1.15"/>
<text x="439.90" y="148.76" font-size="4.6" font-weight="bold" text-anchor="end" fill="#111">50</text>
<line x1="440.20" y1="160.68" x2="442.10" y2="160.68" stroke="#222" stroke-width="1.15"/>
<text x="439.90" y="162.34" font-size="4.6" font-weight="bold" text-anchor="end" fill="#111">40</text>
<line x1="440.20" y1="174.26" x2="442.10" y2="174.26" stroke="#222" stroke-width="1.15"/>
<text x="439.90" y="175.92" font-size="4.6" font-weight="bold" text-anchor="end" fill="#111">30</text>
<line x1="440.20" y1="187.84" x2="442.10" y2="187.84" stroke="#222" stroke-width="1.15"/>
<text x="439.90" y="189.50" font-size="4.6" font-weight="bold" text-anchor="end" fill="#111">20</text>
<line x1="440.20" y1="201.42" x2="442.10" y2="201.42" stroke="#222" stroke-width="1.15"/>
<text x="439.90" y="203.08" font-size="4.6" font-weight="bold" text-anchor="end" fill="#111">10</text>
<line x1="440.20" y1="215.00" x2="442.10" y2="215.00" stroke="#222" stroke-width="1.15"/>
<text x="439.90" y="216.66" font-size="4.6" font-weight="bold" text-anchor="end" fill="#111">0</text>
<text x="428.00" y="181.00" font-size="7.2" font-weight="bold" text-anchor="middle" fill="#111" transform="rotate(-90 428.00 181.00)">% fat tissue</text>
<text x="467.60" y="223.50" font-size="6.5" font-weight="bold" text-anchor="middle" fill="#111">Chow</text>
<text x="518.70" y="223.50" font-size="6.5" font-weight="bold" text-anchor="middle" fill="#111">HF</text>
<path d="M509.8,157.1 V151.7 H529.6 V166.1" stroke="#222" stroke-width="0.9" fill="none"/>
<text x="519.50" y="148.00" font-size="5" font-weight="normal" text-anchor="middle" fill="#111">*</text>
<text x="14.60" y="237.80" font-size="8.4" font-weight="bold" text-anchor="start" fill="#111" stroke="#111" stroke-width="0.3">I</text>
<text class="r" x="81.80" y="241.80" font-size="8.5" font-weight="normal" text-anchor="middle" fill="#111">Chest</text>
<line x1="45.90" y1="268.50" x2="45.90" y2="267.10" stroke="#111" stroke-width="1.0"/>
<line x1="42.90" y1="267.10" x2="48.90" y2="267.10" stroke="#111" stroke-width="1.0"/>
<rect x="39.95" y="269.05" width="11.90" height="51.05" fill="#F7851C" stroke="#111" stroke-width="1.1"/>
<line x1="65.50" y1="268.00" x2="65.50" y2="266.60" stroke="#111" stroke-width="1.0"/>
<line x1="62.50" y1="266.60" x2="68.50" y2="266.60" stroke="#111" stroke-width="1.0"/>
<clipPath id="hc9"><rect x="59.55" y="268.55" width="11.90" height="51.55" rx="0"/></clipPath>
<rect x="59.55" y="268.55" width="11.90" height="51.55" rx="0" fill="#F7851C"/>
<path d="M58.55,252.57l13.90,13.90M58.55,255.65l13.90,13.90M58.55,258.73l13.90,13.90M58.55,261.81l13.90,13.90M58.55,264.89l13.90,13.90M58.55,267.97l13.90,13.90M58.55,271.05l13.90,13.90M58.55,274.13l13.90,13.90M58.55,277.21l13.90,13.90M58.55,280.29l13.90,13.90M58.55,283.37l13.90,13.90M58.55,286.45l13.90,13.90M58.55,289.53l13.90,13.90M58.55,292.61l13.90,13.90M58.55,295.69l13.90,13.90M58.55,298.77l13.90,13.90M58.55,301.85l13.90,13.90M58.55,304.93l13.90,13.90M58.55,308.01l13.90,13.90M58.55,311.09l13.90,13.90M58.55,314.17l13.90,13.90M58.55,317.25l13.90,13.90M58.55,320.33l13.90,13.90" stroke="#000" stroke-width="1.08" fill="none" clip-path="url(#hc9)"/>
<rect x="59.55" y="268.55" width="11.90" height="51.55" fill="none" stroke="#111" stroke-width="1.1"/>
<line x1="97.60" y1="263.10" x2="97.60" y2="260.90" stroke="#111" stroke-width="1.0"/>
<line x1="94.60" y1="260.90" x2="100.60" y2="260.90" stroke="#111" stroke-width="1.0"/>
<rect x="91.65" y="263.65" width="11.90" height="56.45" fill="#106D3D" stroke="#111" stroke-width="1.1"/>
<line x1="117.00" y1="263.30" x2="117.00" y2="261.40" stroke="#111" stroke-width="1.0"/>
<line x1="114.00" y1="261.40" x2="120.00" y2="261.40" stroke="#111" stroke-width="1.0"/>
<clipPath id="hc10"><rect x="110.95" y="263.85" width="12.10" height="56.25" rx="0"/></clipPath>
<rect x="110.95" y="263.85" width="12.10" height="56.25" rx="0" fill="#106D3D"/>
<path d="M109.95,247.67l14.10,14.10M109.95,250.75l14.10,14.10M109.95,253.83l14.10,14.10M109.95,256.91l14.10,14.10M109.95,259.99l14.10,14.10M109.95,263.07l14.10,14.10M109.95,266.15l14.10,14.10M109.95,269.23l14.10,14.10M109.95,272.31l14.10,14.10M109.95,275.39l14.10,14.10M109.95,278.47l14.10,14.10M109.95,281.55l14.10,14.10M109.95,284.63l14.10,14.10M109.95,287.71l14.10,14.10M109.95,290.79l14.10,14.10M109.95,293.87l14.10,14.10M109.95,296.95l14.10,14.10M109.95,300.03l14.10,14.10M109.95,303.11l14.10,14.10M109.95,306.19l14.10,14.10M109.95,309.27l14.10,14.10M109.95,312.35l14.10,14.10M109.95,315.43l14.10,14.10M109.95,318.51l14.10,14.10M109.95,321.59l14.10,14.10" stroke="#000" stroke-width="1.08" fill="none" clip-path="url(#hc10)"/>
<rect x="110.95" y="263.85" width="12.10" height="56.25" fill="none" stroke="#111" stroke-width="1.1"/>
<line x1="29.10" y1="251.10" x2="29.10" y2="320.60" stroke="#161616" stroke-width="1.15"/>
<line x1="28.60" y1="320.10" x2="133.20" y2="320.10" stroke="#161616" stroke-width="1.15"/>
<line x1="27.20" y1="251.60" x2="29.10" y2="251.60" stroke="#222" stroke-width="1.15"/>
<text x="26.90" y="253.83" font-size="6.2" font-weight="bold" text-anchor="end" fill="#111">0.15</text>
<line x1="27.20" y1="274.43" x2="29.10" y2="274.43" stroke="#222" stroke-width="1.15"/>
<text x="26.90" y="276.67" font-size="6.2" font-weight="bold" text-anchor="end" fill="#111">0.10</text>
<line x1="27.20" y1="297.27" x2="29.10" y2="297.27" stroke="#222" stroke-width="1.15"/>
<text x="26.90" y="299.50" font-size="6.2" font-weight="bold" text-anchor="end" fill="#111">0.05</text>
<line x1="27.20" y1="320.10" x2="29.10" y2="320.10" stroke="#222" stroke-width="1.15"/>
<text x="26.90" y="322.33" font-size="6.2" font-weight="bold" text-anchor="end" fill="#111">0.00</text>
<text x="11.50" y="285.00" font-size="7.7" font-weight="bold" text-anchor="middle" fill="#111" transform="rotate(-90 11.50 285.00)">g.cm<tspan dy="-2.7" font-size="4.6">-3</tspan></text>
<text x="55.70" y="328.90" font-size="6.5" font-weight="bold" text-anchor="middle" fill="#111">Chow</text>
<text x="107.40" y="328.90" font-size="6.5" font-weight="bold" text-anchor="middle" fill="#111">HF</text>
<text x="161.20" y="239.10" font-size="8.4" font-weight="bold" text-anchor="start" fill="#111" stroke="#111" stroke-width="0.3">J</text>
<text class="r" x="213.30" y="241.30" font-size="8.5" font-weight="normal" text-anchor="middle" fill="#111">Abdominal</text>
<line x1="179.80" y1="262.50" x2="179.80" y2="260.30" stroke="#111" stroke-width="1.0"/>
<line x1="176.80" y1="260.30" x2="182.80" y2="260.30" stroke="#111" stroke-width="1.0"/>
<rect x="173.95" y="263.05" width="11.70" height="57.05" fill="#F7851C" stroke="#111" stroke-width="1.1"/>
<line x1="199.15" y1="265.80" x2="199.15" y2="263.10" stroke="#111" stroke-width="1.0"/>
<line x1="196.15" y1="263.10" x2="202.15" y2="263.10" stroke="#111" stroke-width="1.0"/>
<clipPath id="hc11"><rect x="193.15" y="266.35" width="12.00" height="53.75" rx="0"/></clipPath>
<rect x="193.15" y="266.35" width="12.00" height="53.75" rx="0" fill="#F7851C"/>
<path d="M192.15,250.27l14.00,14.00M192.15,253.35l14.00,14.00M192.15,256.43l14.00,14.00M192.15,259.51l14.00,14.00M192.15,262.59l14.00,14.00M192.15,265.67l14.00,14.00M192.15,268.75l14.00,14.00M192.15,271.83l14.00,14.00M192.15,274.91l14.00,14.00M192.15,277.99l14.00,14.00M192.15,281.07l14.00,14.00M192.15,284.15l14.00,14.00M192.15,287.23l14.00,14.00M192.15,290.31l14.00,14.00M192.15,293.39l14.00,14.00M192.15,296.47l14.00,14.00M192.15,299.55l14.00,14.00M192.15,302.63l14.00,14.00M192.15,305.71l14.00,14.00M192.15,308.79l14.00,14.00M192.15,311.87l14.00,14.00M192.15,314.95l14.00,14.00M192.15,318.03l14.00,14.00M192.15,321.11l14.00,14.00" stroke="#000" stroke-width="1.08" fill="none" clip-path="url(#hc11)"/>
<rect x="193.15" y="266.35" width="12.00" height="53.75" fill="none" stroke="#111" stroke-width="1.1"/>
<line x1="230.75" y1="258.40" x2="230.75" y2="255.20" stroke="#111" stroke-width="1.0"/>
<line x1="227.75" y1="255.20" x2="233.75" y2="255.20" stroke="#111" stroke-width="1.0"/>
<rect x="224.85" y="258.95" width="11.80" height="61.15" fill="#106D3D" stroke="#111" stroke-width="1.1"/>
<line x1="250.15" y1="259.00" x2="250.15" y2="256.30" stroke="#111" stroke-width="1.0"/>
<line x1="247.15" y1="256.30" x2="253.15" y2="256.30" stroke="#111" stroke-width="1.0"/>
<clipPath id="hc12"><rect x="244.05" y="259.55" width="12.20" height="60.55" rx="0"/></clipPath>
<rect x="244.05" y="259.55" width="12.20" height="60.55" rx="0" fill="#106D3D"/>
<path d="M243.05,243.27l14.20,14.20M243.05,246.35l14.20,14.20M243.05,249.43l14.20,14.20M243.05,252.51l14.20,14.20M243.05,255.59l14.20,14.20M243.05,258.67l14.20,14.20M243.05,261.75l14.20,14.20M243.05,264.83l14.20,14.20M243.05,267.91l14.20,14.20M243.05,270.99l14.20,14.20M243.05,274.07l14.20,14.20M243.05,277.15l14.20,14.20M243.05,280.23l14.20,14.20M243.05,283.31l14.20,14.20M243.05,286.39l14.20,14.20M243.05,289.47l14.20,14.20M243.05,292.55l14.20,14.20M243.05,295.63l14.20,14.20M243.05,298.71l14.20,14.20M243.05,301.79l14.20,14.20M243.05,304.87l14.20,14.20M243.05,307.95l14.20,14.20M243.05,311.03l14.20,14.20M243.05,314.11l14.20,14.20M243.05,317.19l14.20,14.20M243.05,320.27l14.20,14.20" stroke="#000" stroke-width="1.08" fill="none" clip-path="url(#hc12)"/>
<rect x="244.05" y="259.55" width="12.20" height="60.55" fill="none" stroke="#111" stroke-width="1.1"/>
<line x1="163.90" y1="251.10" x2="163.90" y2="320.60" stroke="#161616" stroke-width="1.15"/>
<line x1="163.40" y1="320.10" x2="266.40" y2="320.10" stroke="#161616" stroke-width="1.15"/>
<line x1="162.00" y1="251.60" x2="163.90" y2="251.60" stroke="#222" stroke-width="1.15"/>
<text x="161.70" y="253.83" font-size="6.2" font-weight="bold" text-anchor="end" fill="#111">0.20</text>
<line x1="162.00" y1="268.73" x2="163.90" y2="268.73" stroke="#222" stroke-width="1.15"/>
<text x="161.70" y="270.96" font-size="6.2" font-weight="bold" text-anchor="end" fill="#111">0.15</text>
<line x1="162.00" y1="285.85" x2="163.90" y2="285.85" stroke="#222" stroke-width="1.15"/>
<text x="161.70" y="288.08" font-size="6.2" font-weight="bold" text-anchor="end" fill="#111">0.10</text>
<line x1="162.00" y1="302.98" x2="163.90" y2="302.98" stroke="#222" stroke-width="1.15"/>
<text x="161.70" y="305.21" font-size="6.2" font-weight="bold" text-anchor="end" fill="#111">0.05</text>
<line x1="162.00" y1="320.10" x2="163.90" y2="320.10" stroke="#222" stroke-width="1.15"/>
<text x="161.70" y="322.33" font-size="6.2" font-weight="bold" text-anchor="end" fill="#111">0.00</text>
<text x="146.50" y="286.00" font-size="7.7" font-weight="bold" text-anchor="middle" fill="#111" transform="rotate(-90 146.50 286.00)">g.cm<tspan dy="-2.7" font-size="4.6">-3</tspan></text>
<text x="188.90" y="328.90" font-size="6.5" font-weight="bold" text-anchor="middle" fill="#111">Chow</text>
<text x="240.60" y="328.90" font-size="6.5" font-weight="bold" text-anchor="middle" fill="#111">HF</text>
<text x="285.30" y="242.10" font-size="8.4" font-weight="bold" text-anchor="start" fill="#111" stroke="#111" stroke-width="0.3">K</text>
<text class="r" x="350.80" y="239.90" font-size="8.5" font-weight="normal" text-anchor="middle" fill="#111">Legs</text>
<line x1="319.05" y1="280.20" x2="319.05" y2="279.10" stroke="#111" stroke-width="1.0"/>
<line x1="316.05" y1="279.10" x2="322.05" y2="279.10" stroke="#111" stroke-width="1.0"/>
<rect x="313.05" y="280.75" width="12.00" height="40.45" fill="#F7851C" stroke="#111" stroke-width="1.1"/>
<line x1="338.60" y1="276.90" x2="338.60" y2="275.60" stroke="#111" stroke-width="1.0"/>
<line x1="335.60" y1="275.60" x2="341.60" y2="275.60" stroke="#111" stroke-width="1.0"/>
<clipPath id="hc13"><rect x="332.65" y="277.45" width="11.90" height="43.75" rx="0"/></clipPath>
<rect x="332.65" y="277.45" width="11.90" height="43.75" rx="0" fill="#F7851C"/>
<path d="M331.65,261.47l13.90,13.90M331.65,264.55l13.90,13.90M331.65,267.63l13.90,13.90M331.65,270.71l13.90,13.90M331.65,273.79l13.90,13.90M331.65,276.87l13.90,13.90M331.65,279.95l13.90,13.90M331.65,283.03l13.90,13.90M331.65,286.11l13.90,13.90M331.65,289.19l13.90,13.90M331.65,292.27l13.90,13.90M331.65,295.35l13.90,13.90M331.65,298.43l13.90,13.90M331.65,301.51l13.90,13.90M331.65,304.59l13.90,13.90M331.65,307.67l13.90,13.90M331.65,310.75l13.90,13.90M331.65,313.83l13.90,13.90M331.65,316.91l13.90,13.90M331.65,319.99l13.90,13.90M331.65,323.07l13.90,13.90" stroke="#000" stroke-width="1.08" fill="none" clip-path="url(#hc13)"/>
<rect x="332.65" y="277.45" width="11.90" height="43.75" fill="none" stroke="#111" stroke-width="1.1"/>
<line x1="370.55" y1="268.50" x2="370.55" y2="265.80" stroke="#111" stroke-width="1.0"/>
<line x1="367.55" y1="265.80" x2="373.55" y2="265.80" stroke="#111" stroke-width="1.0"/>
<rect x="364.75" y="269.05" width="11.60" height="52.15" fill="#0E4A21" stroke="#111" stroke-width="1.1"/>
<line x1="389.50" y1="275.30" x2="389.50" y2="273.40" stroke="#111" stroke-width="1.0"/>
<line x1="386.50" y1="273.40" x2="392.50" y2="273.40" stroke="#111" stroke-width="1.0"/>
<clipPath id="hc14"><rect x="383.55" y="275.85" width="11.90" height="45.35" rx="0"/></clipPath>
<rect x="383.55" y="275.85" width="11.90" height="45.35" rx="0" fill="#20986A"/>
<path d="M382.55,259.87l13.90,13.90M382.55,262.95l13.90,13.90M382.55,266.03l13.90,13.90M382.55,269.11l13.90,13.90M382.55,272.19l13.90,13.90M382.55,275.27l13.90,13.90M382.55,278.35l13.90,13.90M382.55,281.43l13.90,13.90M382.55,284.51l13.90,13.90M382.55,287.59l13.90,13.90M382.55,290.67l13.90,13.90M382.55,293.75l13.90,13.90M382.55,296.83l13.90,13.90M382.55,299.91l13.90,13.90M382.55,302.99l13.90,13.90M382.55,306.07l13.90,13.90M382.55,309.15l13.90,13.90M382.55,312.23l13.90,13.90M382.55,315.31l13.90,13.90M382.55,318.39l13.90,13.90M382.55,321.47l13.90,13.90" stroke="#06231a" stroke-width="1.08" fill="none" clip-path="url(#hc14)"/>
<rect x="383.55" y="275.85" width="11.90" height="45.35" fill="none" stroke="#111" stroke-width="1.1"/>
<line x1="303.00" y1="252.20" x2="303.00" y2="321.70" stroke="#161616" stroke-width="1.15"/>
<line x1="302.50" y1="321.20" x2="407.40" y2="321.20" stroke="#161616" stroke-width="1.15"/>
<line x1="301.10" y1="252.70" x2="303.00" y2="252.70" stroke="#222" stroke-width="1.15"/>
<text x="300.80" y="254.93" font-size="6.2" font-weight="bold" text-anchor="end" fill="#111">0.3</text>
<line x1="301.10" y1="275.53" x2="303.00" y2="275.53" stroke="#222" stroke-width="1.15"/>
<text x="300.80" y="277.77" font-size="6.2" font-weight="bold" text-anchor="end" fill="#111">0.2</text>
<line x1="301.10" y1="298.37" x2="303.00" y2="298.37" stroke="#222" stroke-width="1.15"/>
<text x="300.80" y="300.60" font-size="6.2" font-weight="bold" text-anchor="end" fill="#111">0.1</text>
<line x1="301.10" y1="321.20" x2="303.00" y2="321.20" stroke="#222" stroke-width="1.15"/>
<text x="300.80" y="323.43" font-size="6.2" font-weight="bold" text-anchor="end" fill="#111">0.0</text>
<text x="289.50" y="286.00" font-size="7.7" font-weight="bold" text-anchor="middle" fill="#111" transform="rotate(-90 289.50 286.00)">g.cm<tspan dy="-2.7" font-size="4.6">-3</tspan></text>
<text x="328.80" y="330.30" font-size="6.5" font-weight="bold" text-anchor="middle" fill="#111">Chow</text>
<text x="378.80" y="330.30" font-size="6.5" font-weight="bold" text-anchor="middle" fill="#111">HF</text>
<path d="M319,278.8 V254.4 H370.7 V258.2" stroke="#2a2a2a" stroke-width="0.95" fill="none"/>
<text x="344.90" y="252.30" font-size="5" font-weight="normal" text-anchor="middle" fill="#111">**</text>
<text x="427.70" y="240.00" font-size="8.4" font-weight="bold" text-anchor="start" fill="#111" stroke="#111" stroke-width="0.3">L</text>
<text class="r" x="486.50" y="240.80" font-size="8.5" font-weight="normal" text-anchor="middle" fill="#111">Tail</text>
<line x1="460.70" y1="269.80" x2="460.70" y2="268.50" stroke="#111" stroke-width="1.0"/>
<line x1="457.70" y1="268.50" x2="463.70" y2="268.50" stroke="#111" stroke-width="1.0"/>
<rect x="454.85" y="270.35" width="11.70" height="50.65" fill="#F7851C" stroke="#111" stroke-width="1.1"/>
<line x1="480.00" y1="269.80" x2="480.00" y2="268.00" stroke="#111" stroke-width="1.0"/>
<line x1="477.00" y1="268.00" x2="483.00" y2="268.00" stroke="#111" stroke-width="1.0"/>
<clipPath id="hc15"><rect x="473.95" y="270.35" width="12.10" height="50.65" rx="0"/></clipPath>
<rect x="473.95" y="270.35" width="12.10" height="50.65" rx="0" fill="#F7851C"/>
<path d="M472.95,254.17l14.10,14.10M472.95,257.25l14.10,14.10M472.95,260.33l14.10,14.10M472.95,263.41l14.10,14.10M472.95,266.49l14.10,14.10M472.95,269.57l14.10,14.10M472.95,272.65l14.10,14.10M472.95,275.73l14.10,14.10M472.95,278.81l14.10,14.10M472.95,281.89l14.10,14.10M472.95,284.97l14.10,14.10M472.95,288.05l14.10,14.10M472.95,291.13l14.10,14.10M472.95,294.21l14.10,14.10M472.95,297.29l14.10,14.10M472.95,300.37l14.10,14.10M472.95,303.45l14.10,14.10M472.95,306.53l14.10,14.10M472.95,309.61l14.10,14.10M472.95,312.69l14.10,14.10M472.95,315.77l14.10,14.10M472.95,318.85l14.10,14.10M472.95,321.93l14.10,14.10" stroke="#000" stroke-width="1.08" fill="none" clip-path="url(#hc15)"/>
<rect x="473.95" y="270.35" width="12.10" height="50.65" fill="none" stroke="#111" stroke-width="1.1"/>
<line x1="511.60" y1="268.00" x2="511.60" y2="266.00" stroke="#111" stroke-width="1.0"/>
<line x1="508.60" y1="266.00" x2="514.60" y2="266.00" stroke="#111" stroke-width="1.0"/>
<rect x="505.65" y="268.55" width="11.90" height="52.45" fill="#106D3D" stroke="#111" stroke-width="1.1"/>
<clipPath id="hc16"><rect x="524.85" y="268.55" width="12.20" height="52.45" rx="0"/></clipPath>
<rect x="524.85" y="268.55" width="12.20" height="52.45" rx="0" fill="#106D3D"/>
<path d="M523.85,252.27l14.20,14.20M523.85,255.35l14.20,14.20M523.85,258.43l14.20,14.20M523.85,261.51l14.20,14.20M523.85,264.59l14.20,14.20M523.85,267.67l14.20,14.20M523.85,270.75l14.20,14.20M523.85,273.83l14.20,14.20M523.85,276.91l14.20,14.20M523.85,279.99l14.20,14.20M523.85,283.07l14.20,14.20M523.85,286.15l14.20,14.20M523.85,289.23l14.20,14.20M523.85,292.31l14.20,14.20M523.85,295.39l14.20,14.20M523.85,298.47l14.20,14.20M523.85,301.55l14.20,14.20M523.85,304.63l14.20,14.20M523.85,307.71l14.20,14.20M523.85,310.79l14.20,14.20M523.85,313.87l14.20,14.20M523.85,316.95l14.20,14.20M523.85,320.03l14.20,14.20" stroke="#000" stroke-width="1.08" fill="none" clip-path="url(#hc16)"/>
<rect x="524.85" y="268.55" width="12.20" height="52.45" fill="none" stroke="#111" stroke-width="1.1"/>
<line x1="444.00" y1="252.50" x2="444.00" y2="321.50" stroke="#161616" stroke-width="1.15"/>
<line x1="443.50" y1="321.00" x2="544.50" y2="321.00" stroke="#161616" stroke-width="1.15"/>
<line x1="442.10" y1="253.00" x2="444.00" y2="253.00" stroke="#222" stroke-width="1.15"/>
<text x="441.80" y="255.23" font-size="6.2" font-weight="bold" text-anchor="end" fill="#111">0.15</text>
<line x1="442.10" y1="275.67" x2="444.00" y2="275.67" stroke="#222" stroke-width="1.15"/>
<text x="441.80" y="277.90" font-size="6.2" font-weight="bold" text-anchor="end" fill="#111">0.10</text>
<line x1="442.10" y1="298.33" x2="444.00" y2="298.33" stroke="#222" stroke-width="1.15"/>
<text x="441.80" y="300.57" font-size="6.2" font-weight="bold" text-anchor="end" fill="#111">0.05</text>
<line x1="442.10" y1="321.00" x2="444.00" y2="321.00" stroke="#222" stroke-width="1.15"/>
<text x="441.80" y="323.23" font-size="6.2" font-weight="bold" text-anchor="end" fill="#111">0.00</text>
<text x="427.00" y="286.00" font-size="7.7" font-weight="bold" text-anchor="middle" fill="#111" transform="rotate(-90 427.00 286.00)">g.cm<tspan dy="-2.7" font-size="4.6">-3</tspan></text>
<text x="470.30" y="330.30" font-size="6.5" font-weight="bold" text-anchor="middle" fill="#111">Chow</text>
<text x="520.90" y="330.30" font-size="6.5" font-weight="bold" text-anchor="middle" fill="#111">HF</text>
<rect x="326.05" y="365.25" width="10.70" height="9.50" rx="1.4" fill="#F7851C" stroke="#0c0c0c" stroke-width="1.5"/>
<text x="344.00" y="372.90" font-size="8.3" font-weight="bold" text-anchor="start" fill="#111">CS</text>
<clipPath id="hc17"><rect x="363.05" y="365.25" width="10.90" height="9.50" rx="1.4"/></clipPath>
<rect x="363.05" y="365.25" width="10.90" height="9.50" rx="1.4" fill="#F7851C"/>
<path d="M362.05,347.45l12.90,12.90M362.05,353.35l12.90,12.90M362.05,359.25l12.90,12.90M362.05,365.15l12.90,12.90M362.05,371.05l12.90,12.90M362.05,376.95l12.90,12.90" stroke="#000" stroke-width="2.1" fill="none" clip-path="url(#hc17)"/>
<rect x="363.05" y="365.25" width="10.90" height="9.50" rx="1.4" fill="none" stroke="#0c0c0c" stroke-width="1.5"/>
<text x="381.10" y="372.90" font-size="8.3" font-weight="bold" text-anchor="start" fill="#111">CR</text>
<rect x="400.55" y="365.25" width="11.00" height="9.50" rx="1.4" fill="#106D3D" stroke="#0c0c0c" stroke-width="1.5"/>
<text x="419.30" y="372.90" font-size="8.3" font-weight="bold" text-anchor="start" fill="#111">HFS</text>
<clipPath id="hc18"><rect x="442.75" y="365.25" width="11.50" height="9.50" rx="1.4"/></clipPath>
<rect x="442.75" y="365.25" width="11.50" height="9.50" rx="1.4" fill="#1E9443"/>
<path d="M441.75,346.85l13.50,13.50M441.75,352.75l13.50,13.50M441.75,358.65l13.50,13.50M441.75,364.55l13.50,13.50M441.75,370.45l13.50,13.50M441.75,376.35l13.50,13.50" stroke="#000" stroke-width="2.1" fill="none" clip-path="url(#hc18)"/>
<rect x="442.75" y="365.25" width="11.50" height="9.50" rx="1.4" fill="none" stroke="#0c0c0c" stroke-width="1.5"/>
<text x="461.60" y="372.90" font-size="8.3" font-weight="bold" text-anchor="start" fill="#111">HFR</text>
<text x="29.20" y="346.20" font-size="7.4" font-weight="normal" text-anchor="start" fill="#000">M</text>
<filter id="f05" filterUnits="userSpaceOnUse" x="30" y="335" width="240" height="90"><feGaussianBlur stdDeviation="0.5"/></filter>
<filter id="f08" filterUnits="userSpaceOnUse" x="30" y="335" width="240" height="90"><feGaussianBlur stdDeviation="0.8"/></filter>
<filter id="f14" filterUnits="userSpaceOnUse" x="30" y="335" width="240" height="90"><feGaussianBlur stdDeviation="1.4"/></filter>
<filter id="f22" filterUnits="userSpaceOnUse" x="30" y="335" width="240" height="90"><feGaussianBlur stdDeviation="2.2"/></filter>
<g>
<rect x="44.8" y="346.4" width="93.1" height="73.2" fill="#040404"/>
<clipPath id="c1"><rect x="44.8" y="346.4" width="93.1" height="73.2"/></clipPath>
<g clip-path="url(#c1)">
<path d="M50.8,365.2 Q56,363.4 63,364.2 T80,365.6 T100,366.6 T118,367.2 Q124,367.2 127,365.6 L131,363.2 L132.2,364.5 V416.9 H50.8 Z" fill="#7e7477" filter="url(#f05)"/>
<clipPath id="cb1"><path d="M50.8,365.2 Q56,363.4 63,364.2 T80,365.6 T100,366.6 T118,367.2 Q124,367.2 127,365.6 L131,363.2 L132.2,364.5 V416.9 H50.8 Z"/></clipPath>
<g clip-path="url(#cb1)">
<path d="M50,364 H133 V372 Q122,374 112,371.5 T92,371 T72,370 T50,372 Z" fill="#8f8389" filter="url(#f08)"/>
<path d="M64,372 Q70,369.5 78,371.5 T92,372 T108,372.5 L114,376.5 Q108,382 100,380.5 T86,381.5 T72,380.5 T63,378 Z" fill="#6c5560" filter="url(#f08)"/>
<path d="M76,376.5 Q84,374.5 92,377 T104,377" stroke="#8f868c" stroke-width="1.6" fill="none" filter="url(#f08)"/>
<path d="M56,381 H133 V393.5 H56 Z" fill="#8f878a" opacity="0.7" filter="url(#f14)"/>
<path d="M50,366 L64,368 L73,416 H50 Z" fill="#9d928f" opacity="0.6" filter="url(#f14)"/>
<path d="M62,393 H82 V409 H64 Z" fill="#8b8589" opacity="0.8" filter="url(#f14)"/>
<path d="M78,396 Q84,391.5 94,392.5 T108,396.5 Q110,402 106,406 T90,408.5 T78,404 Z" fill="#76525c" filter="url(#f08)"/>
<ellipse cx="86" cy="396.3" rx="2.6" ry="1.5" fill="#9a868c" filter="url(#f05)"/>
<ellipse cx="98.5" cy="396.0" rx="2.6" ry="1.4" fill="#9a868c" filter="url(#f05)"/>
<ellipse cx="96" cy="402.2" rx="3.2" ry="1.6" fill="#673f4b" filter="url(#f05)"/>
<ellipse cx="84" cy="402.5" rx="2.4" ry="1.4" fill="#70454f" filter="url(#f05)"/>
<path d="M80,410 Q90,407.5 102,410 L104,417 H78 Z" fill="#5b5767" filter="url(#f08)"/>
<path d="M50,411.5 H80 V417 H50 Z" fill="#6b6068" opacity="0.7" filter="url(#f08)"/>
<path d="M104,409 H122 V417 H104 Z" fill="#6e6670" opacity="0.7" filter="url(#f08)"/>
<path d="M108,373 L132,366 V410 L110,402 Z" fill="#9a9494" opacity="0.7" filter="url(#f14)"/>
<path d="M58.5,386.9 H128" stroke="#b9aeb4" stroke-width="3.6" filter="url(#f05)"/>
<path d="M60,386.7 H120" stroke="#ddd6da" stroke-width="1.8" stroke-dasharray="3.2,1.1" filter="url(#f05)"/>
<path d="M104,385.5 Q114,381.5 122,377 T132,372" stroke="#c9c3c4" stroke-width="1.7" fill="none" filter="url(#f05)"/>
<path d="M104,388.4 Q114,391.5 122,395.5 T132,398.4" stroke="#d2ccce" stroke-width="1.9" fill="none" filter="url(#f05)"/>
<path d="M116,387 H132" stroke="#e0dcdd" stroke-width="2.3" filter="url(#f05)"/>
<path d="M112,399 Q119,403 124,409" stroke="#cfc8cd" stroke-width="1.6" fill="none" filter="url(#f05)"/>
<ellipse cx="124.5" cy="411.6" rx="5.4" ry="2.3" fill="#f1eff0" filter="url(#f05)"/>
<path d="M129.2,366.6 L132,364.6 V373.4 Z" fill="#f4f2f1" filter="url(#f05)"/>
<path d="M55,371 L72,367.5 M57,374.5 L75,369.5 M58,380 L66,371 M61,383 L70,371 M54,376 L60,385 M56,391 L68,414 M60,390 L74,412 M64,391 L78,409 M52,396 L62,415 M69,393 L76,404 M54,409 L72,415.5" stroke="#c9b23e" stroke-width="0.55" fill="none" opacity="0.8"/>
<path d="M60,383.8 Q75,382.8 92,384 T127,383.6 M60,390 Q80,391 100,389.8 T127,390.4" stroke="#bdb04a" stroke-width="0.5" fill="none" opacity="0.7" stroke-dasharray="1.6,0.8"/>
</g>
<path d="M50.8,365.2 Q56,363.4 63,364.2 T80,365.6 T100,366.6 T118,367.2 Q124,367.2 127,365.6 L131,363.2" stroke="#2f8f82" stroke-width="0.7" fill="none" opacity="0.9"/>
</g>
<rect x="59.4" y="352.5" width="67.4" height="65.0" fill="none" stroke="#35b534" stroke-width="0.7"/>
<ellipse cx="51.5" cy="385.2" rx="6.1" ry="5.4" fill="#c81a26" fill-opacity="0.2" stroke="#cf2430" stroke-width="0.75"/>
</g>
<g>
<rect x="163.0" y="346.4" width="92.6" height="73.2" fill="#040404"/>
<clipPath id="c2"><rect x="163.0" y="346.4" width="92.6" height="73.2"/></clipPath>
<g clip-path="url(#c2)">
<path d="M168.6,364 Q168.8,358.2 174,357.6 Q190,356.6 200,356.2 T214,355.4 Q219,352.2 230,352.2 Q246,352.2 250.4,364 L250.4,404 Q248,416.6 232,416.6 H170.5 Q168.8,416.6 168.8,414 Z" fill="#7b7175" filter="url(#f05)"/>
<clipPath id="cb2"><path d="M168.6,364 Q168.8,358.2 174,357.6 Q190,356.6 200,356.2 T214,355.4 Q219,352.2 230,352.2 Q246,352.2 250.4,364 L250.4,404 Q248,416.6 232,416.6 H170.5 Q168.8,416.6 168.8,414 Z"/></clipPath>
<g clip-path="url(#cb2)">
<path d="M168,355 H216 V362.5 Q200,360 174,363.5 L168,366 Z" fill="#8c8387" opacity="0.8" filter="url(#f08)"/>
<path d="M174,363 Q190,359.5 212,361 L216,372 Q204,378 190,376.5 T173,377 Z" fill="#67505a" filter="url(#f08)"/>
<path d="M172,392 Q188,387.5 206,389.5 T234,394 L236,408 Q222,414 200,413.5 T172,411 Z" fill="#664c56" filter="url(#f08)"/>
<path d="M186,398 Q200,394 214,398 L212,408 Q198,411 188,407 Z" fill="#58404b" filter="url(#f08)"/>
<path d="M170,376 H250 V390 H170 Z" fill="#858083" opacity="0.8" filter="url(#f14)"/>
<path d="M171,384 Q180,383 192,386 L196,392 Q184,396 172,394 Z" fill="#8e898b" filter="url(#f08)"/>
<path d="M216,356 Q232,351 250,362 V404 Q244,414 226,415 Z" fill="#80757a" opacity="0.8" filter="url(#f14)"/>
<path d="M222,366 L238,368 L240,396 L226,392 Z" fill="#6e5560" opacity="0.8" filter="url(#f14)"/>
<path d="M174.5,381.2 H218" stroke="#b9aeb4" stroke-width="3.8" filter="url(#f05)"/>
<path d="M176,381 H216" stroke="#dcd5d9" stroke-width="1.8" stroke-dasharray="2.8,1.0" filter="url(#f05)"/>
<path d="M216,381.6 H250" stroke="#b8b0b4" stroke-width="2.4" filter="url(#f05)"/>
<path d="M215.5,358.6 L222,360.6 L237,367.4" stroke-width="2.7" stroke="#d9d6d3" fill="none" stroke-linecap="round" filter="url(#f05)"/>
<path d="M237,367.6 L249.5,368.8" stroke-width="2.4" stroke="#d9d6d3" fill="none" stroke-linecap="round" filter="url(#f05)"/>
<path d="M238.2,366 L238.6,397" stroke-width="2.6" stroke="#d9d6d3" fill="none" stroke-linecap="round" filter="url(#f05)"/>
<path d="M238.4,397 L231,404 L221.5,410.6" stroke-width="2.6" stroke="#d9d6d3" fill="none" stroke-linecap="round" filter="url(#f05)"/>
<path d="M221.5,411.4 L235,414.6" stroke-width="2.6" stroke="#d9d6d3" fill="none" stroke-linecap="round" filter="url(#f05)"/>
<path d="M236,413.8 L249,412.6" stroke-width="1.6" stroke="#d9d6d3" fill="none" stroke-linecap="round" filter="url(#f05)"/>
<path d="M214,372 Q224,373 233,376.5 M213,391.5 Q224,390 234,386.5" stroke-width="2.0" stroke="#d9d6d3" fill="none" stroke-linecap="round" filter="url(#f05)"/>
<path d="M238,374.5 L250,373 M238,388.5 L250,391" stroke-width="1.6" stroke="#d9d6d3" fill="none" stroke-linecap="round" filter="url(#f05)"/>
<path d="M174,378.4 Q190,377.6 216,378.8 M174,384 Q190,385 216,384" stroke="#c0b048" stroke-width="0.5" fill="none" opacity="0.8" stroke-dasharray="1.4,0.8"/>
<path d="M233,410.4 H249 M233,414 H249" stroke="#c0a838" stroke-width="0.5" opacity="0.8"/>
<circle cx="196.5" cy="412.2" r="0.8" fill="#d7c23a"/><circle cx="229" cy="385.8" r="0.6" fill="#d7c23a"/><circle cx="170.6" cy="409" r="0.7" fill="#d7c23a"/>
</g>
<path d="M168.6,364 Q168.8,358.2 174,357.6 Q190,356.6 200,356.2 T214,355.4 Q219,352.2 230,352.2 Q246,352.2 250.4,364 L250.4,404 Q248,416.6 232,416.6 H170.5 Q168.8,416.6 168.8,414 Z" stroke="#2f8f82" stroke-width="0.6" fill="none" opacity="0.8"/>
</g>
<rect x="170.3" y="351.4" width="65.8" height="65.8" fill="none" stroke="#35b534" stroke-width="0.7"/>
<ellipse cx="169.2" cy="384.7" rx="6.4" ry="5.6" fill="#c81a26" fill-opacity="0.2" stroke="#cf2430" stroke-width="0.75"/>
</g>
</svg>
</body></html>
